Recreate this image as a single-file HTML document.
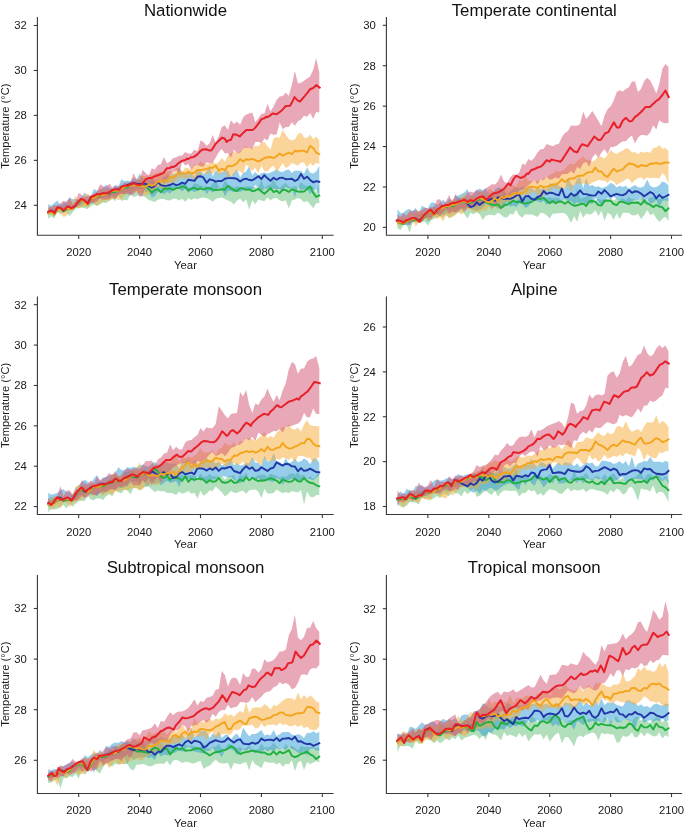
<!DOCTYPE html>
<html><head><meta charset="utf-8"><style>
html,body{margin:0;padding:0;background:#fff;width:685px;height:830px;overflow:hidden}
svg{display:block}
.t{font-family:"Liberation Sans",Arial,sans-serif;font-size:11.3px;fill:#1a1a1a}
.yl{font-size:11.1px}
.ti{font-family:"Liberation Sans",Arial,sans-serif;font-size:16.8px;fill:#111}
</style></head><body>
<svg width="685" height="830" viewBox="0 0 685 830">
<rect width="685" height="830" fill="#fff"/>
<g><polygon points="48.2,212.0 51.3,210.3 54.3,208.5 57.4,207.9 60.4,205.0 63.5,205.9 66.5,203.8 69.6,205.8 72.6,207.7 75.7,202.2 78.7,201.1 81.7,199.5 84.8,200.6 87.8,200.0 90.9,197.8 93.9,196.1 97.0,195.8 100.0,192.0 103.1,192.6 106.1,190.8 109.2,189.6 112.2,191.3 115.2,187.6 118.3,187.4 121.3,184.3 124.4,186.5 127.4,183.0 130.5,183.1 133.5,181.9 136.6,181.1 139.6,180.9 142.6,183.4 145.7,181.6 148.7,182.9 151.8,178.0 154.8,182.8 157.9,186.5 160.9,183.8 164.0,184.3 167.0,186.9 170.1,183.9 173.1,184.5 176.1,187.1 179.2,186.8 182.2,183.4 185.3,183.8 188.3,187.7 191.4,187.3 194.4,183.1 197.5,184.3 200.5,185.4 203.5,186.3 206.6,186.5 209.6,187.1 212.7,183.5 215.7,180.8 218.8,186.4 221.8,188.2 224.9,180.0 227.9,184.8 230.9,186.0 234.0,187.5 237.0,186.2 240.1,187.1 243.1,187.4 246.2,186.3 249.2,186.6 252.3,186.8 255.3,187.2 258.4,187.5 261.4,178.9 264.4,188.3 267.5,185.2 270.5,184.6 273.6,179.8 276.6,185.2 279.7,187.8 282.7,184.9 285.8,182.8 288.8,186.4 291.9,187.2 294.9,186.0 297.9,187.2 301.0,182.1 304.0,185.0 307.1,186.0 310.1,185.4 313.2,186.5 316.2,192.5 319.3,183.7 319.3,203.0 316.2,203.2 313.2,208.2 310.1,204.5 307.1,201.1 304.0,202.2 301.0,199.2 297.9,197.9 294.9,199.6 291.9,200.4 288.8,208.5 285.8,200.2 282.7,201.3 279.7,200.4 276.6,198.0 273.6,198.2 270.5,200.4 267.5,197.6 264.4,201.2 261.4,200.4 258.4,199.5 255.3,204.3 252.3,200.4 249.2,209.8 246.2,199.4 243.1,202.2 240.1,198.7 237.0,200.6 234.0,204.4 230.9,201.7 227.9,200.5 224.9,199.0 221.8,197.4 218.8,198.1 215.7,198.9 212.7,201.8 209.6,199.4 206.6,198.3 203.5,197.6 200.5,198.0 197.5,199.3 194.4,198.3 191.4,199.9 188.3,198.0 185.3,202.0 182.2,198.8 179.2,200.5 176.1,198.7 173.1,198.8 170.1,200.6 167.0,200.2 164.0,199.0 160.9,199.1 157.9,199.8 154.8,201.9 151.8,200.9 148.7,200.1 145.7,197.5 142.6,195.9 139.6,195.0 136.6,196.0 133.5,197.1 130.5,194.3 127.4,200.2 124.4,200.0 121.3,200.7 118.3,195.3 115.2,201.2 112.2,198.6 109.2,200.6 106.1,203.2 103.1,202.2 100.0,204.4 97.0,205.9 93.9,204.4 90.9,206.0 87.8,209.0 84.8,208.2 81.7,207.5 78.7,208.2 75.7,208.5 72.6,212.2 69.6,216.1 66.5,212.4 63.5,212.6 60.4,214.6 57.4,210.9 54.3,218.6 51.3,216.2 48.2,218.7" fill="#65bf77" fill-opacity="0.5"/><polygon points="48.2,204.1 51.3,205.8 54.3,203.0 57.4,200.6 60.4,205.3 63.5,202.5 66.5,202.0 69.6,197.4 72.6,199.2 75.7,199.0 78.7,200.0 81.7,196.7 84.8,192.5 87.8,196.9 90.9,196.2 93.9,189.0 97.0,190.8 100.0,189.5 103.1,187.7 106.1,184.5 109.2,187.8 112.2,188.9 115.2,184.8 118.3,187.1 121.3,179.2 124.4,181.2 127.4,180.4 130.5,181.3 133.5,178.1 136.6,179.5 139.6,173.6 142.6,178.4 145.7,178.1 148.7,179.7 151.8,175.3 154.8,181.9 157.9,179.5 160.9,179.3 164.0,177.0 167.0,175.0 170.1,176.1 173.1,173.3 176.1,174.4 179.2,167.3 182.2,172.5 185.3,173.8 188.3,171.4 191.4,172.7 194.4,176.7 197.5,170.1 200.5,171.3 203.5,174.0 206.6,172.1 209.6,165.8 212.7,176.4 215.7,170.3 218.8,172.8 221.8,172.7 224.9,170.5 227.9,170.2 230.9,176.5 234.0,172.3 237.0,169.3 240.1,177.6 243.1,173.1 246.2,171.6 249.2,166.6 252.3,175.2 255.3,171.9 258.4,175.2 261.4,173.2 264.4,172.6 267.5,173.5 270.5,172.5 273.6,171.3 276.6,169.4 279.7,171.6 282.7,172.1 285.8,170.3 288.8,169.5 291.9,173.1 294.9,170.4 297.9,170.8 301.0,170.8 304.0,173.8 307.1,167.6 310.1,172.8 313.2,173.6 316.2,171.4 319.3,165.8 319.3,195.3 316.2,189.3 313.2,189.9 310.1,194.2 307.1,188.5 304.0,189.1 301.0,190.6 297.9,185.9 294.9,197.8 291.9,187.6 288.8,189.0 285.8,186.8 282.7,191.5 279.7,189.0 276.6,189.3 273.6,188.8 270.5,188.5 267.5,188.4 264.4,188.7 261.4,191.4 258.4,188.0 255.3,184.8 252.3,190.1 249.2,190.1 246.2,190.0 243.1,190.5 240.1,191.9 237.0,191.5 234.0,192.0 230.9,191.0 227.9,191.0 224.9,196.4 221.8,187.9 218.8,187.5 215.7,190.8 212.7,192.4 209.6,190.3 206.6,194.6 203.5,187.0 200.5,189.0 197.5,190.8 194.4,192.0 191.4,190.5 188.3,192.7 185.3,188.4 182.2,191.4 179.2,188.8 176.1,187.9 173.1,190.1 170.1,193.7 167.0,191.8 164.0,194.6 160.9,192.1 157.9,191.7 154.8,196.1 151.8,197.4 148.7,191.6 145.7,192.2 142.6,188.8 139.6,188.8 136.6,189.0 133.5,191.3 130.5,194.0 127.4,192.1 124.4,195.0 121.3,192.4 118.3,195.2 115.2,196.7 112.2,194.8 109.2,198.5 106.1,197.5 103.1,197.8 100.0,198.2 97.0,199.0 93.9,200.9 90.9,203.8 87.8,204.2 84.8,202.6 81.7,206.2 78.7,205.0 75.7,206.2 72.6,208.8 69.6,209.1 66.5,208.9 63.5,211.9 60.4,209.2 57.4,211.9 54.3,213.8 51.3,213.2 48.2,213.2" fill="#2d9bd7" fill-opacity="0.5"/><polygon points="48.2,209.4 51.3,206.4 54.3,206.6 57.4,207.2 60.4,208.1 63.5,207.0 66.5,206.3 69.6,199.9 72.6,202.1 75.7,196.1 78.7,200.3 81.7,199.2 84.8,194.7 87.8,193.5 90.9,197.2 93.9,193.0 97.0,195.2 100.0,187.4 103.1,191.6 106.1,188.8 109.2,190.2 112.2,189.3 115.2,189.2 118.3,189.3 121.3,187.3 124.4,185.7 127.4,185.1 130.5,181.5 133.5,183.0 136.6,182.9 139.6,176.2 142.6,175.7 145.7,176.6 148.7,174.6 151.8,175.8 154.8,173.2 157.9,173.1 160.9,171.6 164.0,172.6 167.0,171.7 170.1,170.5 173.1,174.4 176.1,168.3 179.2,167.5 182.2,171.7 185.3,167.5 188.3,168.3 191.4,169.6 194.4,163.7 197.5,165.6 200.5,161.3 203.5,163.6 206.6,164.2 209.6,163.5 212.7,161.7 215.7,163.7 218.8,161.9 221.8,158.0 224.9,161.8 227.9,155.7 230.9,153.1 234.0,151.2 237.0,153.6 240.1,151.4 243.1,148.2 246.2,145.9 249.2,148.6 252.3,148.0 255.3,145.7 258.4,146.2 261.4,142.4 264.4,142.0 267.5,146.2 270.5,149.4 273.6,138.6 276.6,136.9 279.7,137.7 282.7,129.8 285.8,134.7 288.8,139.1 291.9,140.5 294.9,139.3 297.9,134.2 301.0,132.5 304.0,137.7 307.1,138.0 310.1,134.6 313.2,139.3 316.2,136.6 319.3,140.6 319.3,164.0 316.2,162.8 313.2,165.9 310.1,163.0 307.1,167.6 304.0,162.5 301.0,162.5 297.9,165.7 294.9,164.3 291.9,162.9 288.8,166.3 285.8,167.9 282.7,162.9 279.7,167.8 276.6,172.5 273.6,165.6 270.5,167.8 267.5,171.5 264.4,171.3 261.4,165.4 258.4,173.5 255.3,167.8 252.3,170.9 249.2,167.4 246.2,163.9 243.1,173.8 240.1,171.5 237.0,170.2 234.0,174.7 230.9,175.7 227.9,179.5 224.9,171.1 221.8,173.6 218.8,175.3 215.7,169.4 212.7,174.4 209.6,172.4 206.6,174.8 203.5,171.7 200.5,176.3 197.5,178.8 194.4,180.7 191.4,176.8 188.3,178.1 185.3,179.3 182.2,178.5 179.2,178.3 176.1,182.1 173.1,182.4 170.1,184.3 167.0,182.7 164.0,191.3 160.9,187.8 157.9,186.5 154.8,189.6 151.8,192.7 148.7,194.0 145.7,195.4 142.6,192.7 139.6,193.0 136.6,192.8 133.5,191.4 130.5,192.9 127.4,192.6 124.4,195.8 121.3,199.3 118.3,199.9 115.2,198.0 112.2,199.2 109.2,200.9 106.1,199.9 103.1,202.1 100.0,202.6 97.0,205.8 93.9,202.9 90.9,201.5 87.8,207.4 84.8,206.5 81.7,206.9 78.7,208.3 75.7,206.6 72.6,210.0 69.6,210.8 66.5,215.9 63.5,216.9 60.4,212.4 57.4,212.9 54.3,216.4 51.3,214.1 48.2,214.4" fill="#f7a935" fill-opacity="0.5"/><polygon points="48.2,207.5 51.3,207.0 54.3,205.1 57.4,205.7 60.4,203.3 63.5,200.7 66.5,202.1 69.6,197.3 72.6,204.2 75.7,201.6 78.7,192.7 81.7,195.0 84.8,197.8 87.8,195.4 90.9,195.4 93.9,193.8 97.0,191.4 100.0,184.2 103.1,186.2 106.1,187.5 109.2,183.6 112.2,187.3 115.2,186.3 118.3,185.7 121.3,185.5 124.4,182.5 127.4,182.8 130.5,182.1 133.5,173.2 136.6,179.2 139.6,179.4 142.6,169.7 145.7,172.9 148.7,176.0 151.8,168.2 154.8,169.4 157.9,164.9 160.9,164.3 164.0,156.9 167.0,163.4 170.1,161.6 173.1,158.1 176.1,157.5 179.2,155.7 182.2,155.6 185.3,151.9 188.3,153.7 191.4,153.5 194.4,149.6 197.5,151.5 200.5,140.4 203.5,141.9 206.6,145.8 209.6,143.2 212.7,135.0 215.7,142.8 218.8,135.9 221.8,127.1 224.9,125.2 227.9,130.0 230.9,120.3 234.0,123.9 237.0,121.6 240.1,124.7 243.1,117.4 246.2,114.6 249.2,113.6 252.3,112.4 255.3,122.3 258.4,118.3 261.4,113.8 264.4,113.4 267.5,103.8 270.5,111.5 273.6,106.5 276.6,100.1 279.7,96.6 282.7,95.9 285.8,92.7 288.8,95.7 291.9,84.8 294.9,71.1 297.9,83.4 301.0,82.7 304.0,80.7 307.1,78.5 310.1,76.4 313.2,69.7 316.2,58.0 319.3,72.5 319.3,112.5 316.2,112.1 313.2,119.0 310.1,113.0 307.1,116.8 304.0,115.8 301.0,119.5 297.9,121.3 294.9,125.8 291.9,122.2 288.8,127.1 285.8,126.9 282.7,129.2 279.7,122.5 276.6,134.6 273.6,134.8 270.5,133.4 267.5,140.4 264.4,138.5 261.4,143.3 258.4,141.8 255.3,142.2 252.3,148.9 249.2,148.2 246.2,147.5 243.1,148.4 240.1,152.8 237.0,153.4 234.0,149.5 230.9,157.7 227.9,152.9 224.9,153.6 221.8,148.9 218.8,152.3 215.7,157.7 212.7,162.8 209.6,163.2 206.6,162.6 203.5,166.6 200.5,166.3 197.5,165.3 194.4,165.2 191.4,170.1 188.3,164.0 185.3,165.5 182.2,161.8 179.2,173.1 176.1,170.3 173.1,172.3 170.1,175.3 167.0,179.3 164.0,183.4 160.9,179.6 157.9,180.7 154.8,188.2 151.8,186.7 148.7,187.1 145.7,185.9 142.6,196.3 139.6,197.0 136.6,190.6 133.5,194.2 130.5,195.6 127.4,194.3 124.4,193.5 121.3,193.9 118.3,194.8 115.2,199.0 112.2,197.2 109.2,198.9 106.1,199.7 103.1,199.7 100.0,198.3 97.0,201.4 93.9,203.2 90.9,202.6 87.8,205.2 84.8,202.2 81.7,202.0 78.7,206.3 75.7,206.8 72.6,210.3 69.6,207.7 66.5,210.4 63.5,210.5 60.4,210.8 57.4,208.8 54.3,214.0 51.3,212.6 48.2,215.0" fill="#d15171" fill-opacity="0.5"/><polyline points="48.2,213.0 51.3,211.3 54.3,214.5 57.4,208.9 60.4,208.8 63.5,211.2 66.5,208.9 69.6,208.8 72.6,208.7 75.7,205.7 78.7,202.1 81.7,200.5 84.8,201.6 87.8,204.5 90.9,198.8 93.9,197.1 97.0,196.8 100.0,195.4 103.1,193.6 106.1,194.6 109.2,192.6 112.2,192.3 115.2,191.8 118.3,191.0 121.3,188.6 124.4,187.5 127.4,187.4 130.5,184.9 133.5,184.9 136.6,185.4 139.6,185.4 142.6,185.1 145.7,186.8 148.7,189.1 151.8,192.7 154.8,190.1 157.9,189.1 160.9,192.3 164.0,188.5 167.0,188.8 170.1,188.5 173.1,190.0 176.1,188.1 179.2,187.8 182.2,186.4 185.3,187.0 188.3,190.4 191.4,188.7 194.4,187.7 197.5,189.5 200.5,188.4 203.5,189.7 206.6,188.3 209.6,188.1 212.7,189.6 215.7,190.1 218.8,189.7 221.8,189.2 224.9,189.7 227.9,185.8 230.9,188.4 234.0,190.0 237.0,191.0 240.1,188.1 243.1,188.4 246.2,189.8 249.2,189.3 252.3,191.2 255.3,190.5 258.4,188.8 261.4,191.5 264.4,193.7 267.5,191.0 270.5,188.1 273.6,192.2 276.6,190.7 279.7,193.2 282.7,189.6 285.8,190.1 288.8,191.9 291.9,189.3 294.9,190.4 297.9,191.6 301.0,191.8 304.0,191.5 307.1,189.0 310.1,186.4 313.2,192.9 316.2,196.9 319.3,195.6" fill="none" stroke="#1fb040" stroke-width="1.9" stroke-linejoin="round" stroke-linecap="square"/><polyline points="48.2,212.2 51.3,210.4 54.3,212.7 57.4,207.8 60.4,208.2 63.5,210.9 66.5,207.9 69.6,208.1 72.6,207.8 75.7,205.2 78.7,201.0 81.7,199.8 84.8,201.6 87.8,203.2 90.9,197.2 93.9,196.4 97.0,195.8 100.0,194.6 103.1,193.6 106.1,194.1 109.2,193.7 112.2,189.9 115.2,190.3 118.3,189.4 121.3,189.2 124.4,186.6 127.4,185.1 130.5,183.8 133.5,182.8 136.6,183.6 139.6,183.9 142.6,183.8 145.7,183.9 148.7,186.0 151.8,187.8 154.8,186.0 157.9,182.4 160.9,185.1 164.0,185.9 167.0,185.6 170.1,185.0 173.1,183.5 176.1,185.3 179.2,184.3 182.2,182.6 185.3,183.8 188.3,179.8 191.4,180.3 194.4,180.9 197.5,176.7 200.5,176.2 203.5,177.7 206.6,182.8 209.6,179.3 212.7,180.2 215.7,181.7 218.8,180.9 221.8,181.1 224.9,178.8 227.9,178.1 230.9,178.1 234.0,178.2 237.0,179.0 240.1,181.6 243.1,179.4 246.2,178.7 249.2,180.0 252.3,180.2 255.3,178.4 258.4,176.2 261.4,179.0 264.4,175.2 267.5,178.3 270.5,180.8 273.6,177.8 276.6,179.7 279.7,177.9 282.7,177.8 285.8,179.2 288.8,179.1 291.9,178.7 294.9,181.0 297.9,179.4 301.0,174.0 304.0,178.8 307.1,176.7 310.1,179.9 313.2,182.3 316.2,181.1 319.3,181.8" fill="none" stroke="#2237a6" stroke-width="1.9" stroke-linejoin="round" stroke-linecap="square"/><polyline points="48.2,213.4 51.3,211.5 54.3,214.2 57.4,208.2 60.4,209.3 63.5,209.9 66.5,208.1 69.6,209.0 72.6,209.0 75.7,205.6 78.7,201.3 81.7,200.2 84.8,201.8 87.8,205.0 90.9,198.7 93.9,197.8 97.0,196.2 100.0,194.9 103.1,194.7 106.1,194.3 109.2,192.8 112.2,190.9 115.2,190.5 118.3,190.7 121.3,189.2 124.4,186.7 127.4,186.1 130.5,185.3 133.5,185.2 136.6,185.1 139.6,185.8 142.6,186.2 145.7,186.9 148.7,184.6 151.8,185.6 154.8,184.9 157.9,181.4 160.9,181.5 164.0,180.2 167.0,181.6 170.1,176.9 173.1,177.8 176.1,175.2 179.2,173.3 182.2,173.1 185.3,173.7 188.3,171.8 191.4,173.2 194.4,172.8 197.5,169.9 200.5,170.1 203.5,169.5 206.6,168.9 209.6,167.8 212.7,167.7 215.7,165.6 218.8,170.8 221.8,168.6 224.9,170.1 227.9,166.0 230.9,166.1 234.0,165.4 237.0,163.3 240.1,159.0 243.1,161.6 246.2,159.2 249.2,159.7 252.3,158.8 255.3,160.1 258.4,161.6 261.4,159.9 264.4,158.0 267.5,157.3 270.5,157.0 273.6,158.2 276.6,155.9 279.7,153.4 282.7,155.7 285.8,154.0 288.8,152.7 291.9,154.1 294.9,150.8 297.9,151.5 301.0,150.6 304.0,150.8 307.1,152.4 310.1,145.9 313.2,148.1 316.2,152.7 319.3,154.1" fill="none" stroke="#f2a51c" stroke-width="1.9" stroke-linejoin="round" stroke-linecap="square"/><polyline points="48.3,211.7 51.7,210.7 54.6,213.1 57.5,207.2 61.0,208.4 63.9,210.1 67.4,206.6 69.6,206.7 71.0,208.4 73.9,207.2 75.7,205.8 77.4,202.6 80.9,199.0 84.4,200.2 87.9,203.7 91.4,196.7 94.9,195.5 97.0,193.9 99.6,194.4 103.0,193.2 106.6,193.2 110.0,192.0 112.2,190.2 113.6,189.7 115.2,189.3 119.4,189.7 121.3,186.9 125.4,185.4 127.4,185.8 130.5,184.5 134.2,183.2 136.6,184.6 139.6,185.1 141.8,184.3 145.7,179.4 147.3,178.8 148.7,177.9 151.8,178.0 153.9,176.6 157.9,175.2 160.9,174.0 162.6,173.4 164.0,172.2 167.0,168.2 170.1,168.0 171.4,166.8 173.1,167.1 176.1,165.5 178.0,163.5 182.2,160.7 185.3,160.1 186.7,158.7 188.3,159.0 191.4,157.2 193.8,156.9 197.5,154.4 200.5,150.9 202.5,149.6 206.6,149.3 209.6,150.6 211.3,150.3 212.7,148.6 215.7,143.8 218.8,140.8 222.2,137.6 224.9,138.7 226.6,142.0 227.9,140.8 230.9,139.8 233.2,134.3 237.0,134.8 239.7,136.5 243.1,132.9 246.3,129.9 249.2,130.0 252.9,129.9 255.3,127.6 259.4,122.3 261.4,119.1 264.4,118.3 266.0,116.8 267.5,117.2 270.5,115.1 272.6,113.5 276.6,114.3 279.7,112.0 281.3,110.9 282.7,109.4 285.8,106.0 290.1,105.8 291.9,102.6 294.5,97.1 297.9,100.6 300.0,101.5 304.0,96.8 307.6,92.7 310.1,89.2 313.2,88.0 316.4,85.0 319.7,87.7" fill="none" stroke="#e8202a" stroke-width="2.0" stroke-linejoin="round" stroke-linecap="square"/><path d="M37.40 17.00V235.30H333.60" fill="none" stroke="#383838" stroke-width="1.1"/><path d="M33.80 205.30H37.40" stroke="#383838" stroke-width="1.1"/><text x="26.80" y="209.10" text-anchor="end" class="t">24</text><path d="M33.80 160.35H37.40" stroke="#383838" stroke-width="1.1"/><text x="26.80" y="164.15" text-anchor="end" class="t">26</text><path d="M33.80 115.40H37.40" stroke="#383838" stroke-width="1.1"/><text x="26.80" y="119.20" text-anchor="end" class="t">28</text><path d="M33.80 70.45H37.40" stroke="#383838" stroke-width="1.1"/><text x="26.80" y="74.25" text-anchor="end" class="t">30</text><path d="M33.80 25.50H37.40" stroke="#383838" stroke-width="1.1"/><text x="26.80" y="29.30" text-anchor="end" class="t">32</text><path d="M78.70 235.30V238.90" stroke="#383838" stroke-width="1.1"/><text x="78.70" y="256.30" text-anchor="middle" class="t">2020</text><path d="M139.60 235.30V238.90" stroke="#383838" stroke-width="1.1"/><text x="139.60" y="256.30" text-anchor="middle" class="t">2040</text><path d="M200.50 235.30V238.90" stroke="#383838" stroke-width="1.1"/><text x="200.50" y="256.30" text-anchor="middle" class="t">2060</text><path d="M261.40 235.30V238.90" stroke="#383838" stroke-width="1.1"/><text x="261.40" y="256.30" text-anchor="middle" class="t">2080</text><path d="M322.30 235.30V238.90" stroke="#383838" stroke-width="1.1"/><text x="322.30" y="256.30" text-anchor="middle" class="t">2100</text><text x="185.50" y="268.80" text-anchor="middle" class="t">Year</text><text transform="translate(9.30 126.15) rotate(-90)" text-anchor="middle" class="t yl">Temperature (°C)</text><text x="185.50" y="16.00" text-anchor="middle" class="ti">Nationwide</text></g>
<g><polygon points="397.4,217.4 400.5,220.4 403.5,217.8 406.6,221.2 409.6,217.5 412.7,219.4 415.7,213.5 418.8,214.3 421.8,213.1 424.9,214.6 427.9,210.9 430.9,210.4 434.0,206.3 437.0,210.1 440.1,207.7 443.1,206.1 446.2,205.7 449.2,202.8 452.3,201.2 455.3,202.3 458.3,196.2 461.4,200.8 464.4,197.8 467.5,200.6 470.5,196.9 473.6,200.4 476.6,197.7 479.7,196.9 482.7,194.0 485.8,200.6 488.8,198.5 491.8,190.5 494.9,195.0 497.9,198.5 501.0,198.8 504.0,189.7 507.1,197.9 510.1,197.6 513.2,199.5 516.2,201.2 519.2,197.2 522.3,196.6 525.3,199.2 528.4,195.3 531.4,196.9 534.5,197.4 537.5,197.9 540.6,197.8 543.6,196.6 546.7,198.0 549.7,197.0 552.7,198.3 555.8,197.6 558.8,198.2 561.9,200.8 564.9,197.7 568.0,198.2 571.0,195.8 574.1,197.2 577.1,188.5 580.1,198.4 583.2,197.5 586.2,196.4 589.3,194.8 592.3,199.2 595.4,200.5 598.4,198.5 601.5,199.7 604.5,199.3 607.6,199.5 610.6,198.1 613.6,200.4 616.7,198.4 619.7,199.8 622.8,198.0 625.8,200.3 628.9,196.4 631.9,199.2 635.0,198.5 638.0,201.4 641.0,196.6 644.1,198.8 647.1,200.6 650.2,197.5 653.2,197.2 656.3,197.8 659.3,199.6 662.4,196.2 665.4,199.0 668.5,197.7 668.5,220.7 665.4,216.7 662.4,218.7 659.3,222.1 656.3,218.3 653.2,213.4 650.2,215.2 647.1,210.0 644.1,215.3 641.0,219.1 638.0,213.7 635.0,215.4 631.9,215.3 628.9,213.1 625.8,212.7 622.8,212.9 619.7,218.9 616.7,213.2 613.6,220.0 610.6,214.3 607.6,213.0 604.5,220.7 601.5,210.8 598.4,216.1 595.4,210.3 592.3,213.5 589.3,214.8 586.2,213.5 583.2,217.8 580.1,210.9 577.1,221.8 574.1,216.1 571.0,223.1 568.0,216.7 564.9,213.3 561.9,212.9 558.8,213.2 555.8,213.4 552.7,213.8 549.7,218.4 546.7,215.2 543.6,213.2 540.6,212.8 537.5,216.9 534.5,215.6 531.4,214.2 528.4,214.8 525.3,214.0 522.3,217.8 519.2,215.2 516.2,209.8 513.2,214.6 510.1,213.8 507.1,217.5 504.0,217.3 501.0,214.8 497.9,212.4 494.9,215.5 491.8,215.1 488.8,214.7 485.8,215.7 482.7,220.0 479.7,214.2 476.6,212.3 473.6,214.3 470.5,212.8 467.5,218.4 464.4,214.0 461.4,210.9 458.3,212.8 455.3,214.4 452.3,215.9 449.2,218.5 446.2,214.4 443.1,217.5 440.1,215.9 437.0,217.8 434.0,218.8 430.9,220.5 427.9,225.4 424.9,221.4 421.8,221.4 418.8,222.9 415.7,222.5 412.7,221.9 409.6,232.7 406.6,224.7 403.5,224.9 400.5,229.9 397.4,227.9" fill="#65bf77" fill-opacity="0.5"/><polygon points="397.4,209.2 400.5,213.2 403.5,212.7 406.6,209.7 409.6,209.0 412.7,211.6 415.7,207.7 418.8,213.7 421.8,205.4 424.9,207.4 427.9,208.6 430.9,202.8 434.0,202.4 437.0,205.2 440.1,202.6 443.1,199.5 446.2,202.8 449.2,198.2 452.3,201.8 455.3,195.4 458.3,195.8 461.4,194.1 464.4,192.4 467.5,189.1 470.5,196.7 473.6,193.7 476.6,190.6 479.7,188.5 482.7,190.2 485.8,188.2 488.8,193.5 491.8,195.8 494.9,189.3 497.9,187.6 501.0,187.8 504.0,190.1 507.1,194.4 510.1,191.9 513.2,188.7 516.2,187.0 519.2,188.4 522.3,186.1 525.3,188.5 528.4,186.8 531.4,187.0 534.5,190.4 537.5,187.4 540.6,188.9 543.6,188.1 546.7,189.2 549.7,183.1 552.7,185.2 555.8,182.6 558.8,185.8 561.9,187.5 564.9,189.1 568.0,177.1 571.0,184.3 574.1,185.6 577.1,178.6 580.1,176.9 583.2,188.3 586.2,178.2 589.3,185.9 592.3,185.1 595.4,187.1 598.4,186.3 601.5,188.1 604.5,187.2 607.6,186.0 610.6,182.8 613.6,184.2 616.7,187.5 619.7,185.8 622.8,186.9 625.8,185.8 628.9,188.8 631.9,186.8 635.0,185.1 638.0,187.3 641.0,187.6 644.1,186.3 647.1,179.5 650.2,185.8 653.2,187.5 656.3,186.9 659.3,185.2 662.4,181.5 665.4,182.4 668.5,185.6 668.5,200.7 665.4,200.6 662.4,200.7 659.3,207.8 656.3,199.4 653.2,202.7 650.2,203.6 647.1,199.1 644.1,204.3 641.0,196.4 638.0,201.0 635.0,199.3 631.9,201.5 628.9,205.3 625.8,201.7 622.8,201.6 619.7,200.2 616.7,199.0 613.6,196.6 610.6,199.2 607.6,197.8 604.5,203.3 601.5,206.5 598.4,201.7 595.4,197.4 592.3,204.2 589.3,202.9 586.2,205.4 583.2,201.3 580.1,204.6 577.1,202.1 574.1,204.5 571.0,201.1 568.0,200.9 564.9,198.6 561.9,200.6 558.8,202.5 555.8,203.8 552.7,203.3 549.7,202.2 546.7,204.8 543.6,200.7 540.6,202.5 537.5,201.0 534.5,200.7 531.4,201.1 528.4,206.6 525.3,207.9 522.3,203.6 519.2,203.5 516.2,207.3 513.2,205.6 510.1,206.7 507.1,201.3 504.0,207.9 501.0,207.1 497.9,208.6 494.9,206.4 491.8,208.6 488.8,205.8 485.8,204.3 482.7,208.4 479.7,209.4 476.6,211.0 473.6,209.8 470.5,208.5 467.5,207.0 464.4,208.3 461.4,208.9 458.3,209.5 455.3,212.1 452.3,209.5 449.2,211.7 446.2,213.7 443.1,215.0 440.1,212.9 437.0,214.3 434.0,215.0 430.9,219.5 427.9,221.6 424.9,216.2 421.8,219.6 418.8,221.5 415.7,219.5 412.7,222.4 409.6,224.4 406.6,225.5 403.5,224.3 400.5,223.2 397.4,223.1" fill="#2d9bd7" fill-opacity="0.5"/><polygon points="397.4,218.5 400.5,216.6 403.5,217.5 406.6,216.6 409.6,210.0 412.7,214.7 415.7,212.3 418.8,210.9 421.8,210.9 424.9,211.7 427.9,207.8 430.9,209.8 434.0,206.7 437.0,210.0 440.1,203.1 443.1,206.2 446.2,203.2 449.2,201.8 452.3,199.3 455.3,200.4 458.3,199.9 461.4,197.3 464.4,193.3 467.5,198.4 470.5,194.7 473.6,196.5 476.6,196.6 479.7,191.1 482.7,191.5 485.8,196.3 488.8,188.8 491.8,190.3 494.9,193.2 497.9,189.0 501.0,188.7 504.0,192.2 507.1,184.2 510.1,187.6 513.2,184.8 516.2,187.0 519.2,179.8 522.3,181.3 525.3,176.6 528.4,180.2 531.4,181.4 534.5,180.3 537.5,181.1 540.6,179.3 543.6,178.6 546.7,177.1 549.7,174.4 552.7,174.0 555.8,171.3 558.8,171.4 561.9,170.9 564.9,168.9 568.0,164.8 571.0,163.9 574.1,164.5 577.1,161.0 580.1,158.7 583.2,156.0 586.2,160.1 589.3,159.6 592.3,161.7 595.4,159.7 598.4,156.5 601.5,156.7 604.5,158.6 607.6,154.7 610.6,149.9 613.6,152.7 616.7,153.9 619.7,152.1 622.8,150.8 625.8,148.0 628.9,148.9 631.9,152.5 635.0,151.9 638.0,154.3 641.0,151.8 644.1,152.8 647.1,151.4 650.2,153.1 653.2,148.1 656.3,147.5 659.3,145.1 662.4,148.8 665.4,147.9 668.5,151.1 668.5,183.9 665.4,176.2 662.4,173.1 659.3,178.5 656.3,178.0 653.2,177.8 650.2,178.2 647.1,177.2 644.1,180.0 641.0,177.3 638.0,178.2 635.0,180.0 631.9,183.2 628.9,178.4 625.8,179.2 622.8,181.7 619.7,182.9 616.7,184.9 613.6,181.6 610.6,180.0 607.6,183.1 604.5,180.6 601.5,180.7 598.4,179.8 595.4,181.4 592.3,182.5 589.3,185.1 586.2,183.7 583.2,183.8 580.1,182.9 577.1,184.8 574.1,184.8 571.0,191.6 568.0,185.2 564.9,188.6 561.9,190.3 558.8,189.2 555.8,188.9 552.7,187.7 549.7,192.1 546.7,189.7 543.6,197.3 540.6,194.1 537.5,196.0 534.5,192.3 531.4,192.8 528.4,195.4 525.3,195.2 522.3,194.7 519.2,200.5 516.2,196.8 513.2,202.4 510.1,201.8 507.1,201.3 504.0,202.6 501.0,209.4 497.9,208.5 494.9,206.3 491.8,210.8 488.8,206.0 485.8,211.0 482.7,210.1 479.7,212.3 476.6,211.5 473.6,211.5 470.5,210.1 467.5,207.4 464.4,211.3 461.4,215.0 458.3,211.4 455.3,215.3 452.3,217.3 449.2,217.5 446.2,215.6 443.1,221.5 440.1,217.3 437.0,219.1 434.0,216.1 430.9,220.1 427.9,220.1 424.9,218.1 421.8,221.0 418.8,222.4 415.7,226.6 412.7,220.3 409.6,221.3 406.6,223.4 403.5,224.9 400.5,225.6 397.4,225.2" fill="#f7a935" fill-opacity="0.5"/><polygon points="397.4,214.5 400.5,216.7 403.5,213.0 406.6,215.5 409.6,211.4 412.7,210.8 415.7,210.0 418.8,211.3 421.8,210.1 424.9,207.6 427.9,209.0 430.9,206.9 434.0,206.9 437.0,199.7 440.1,199.3 443.1,204.5 446.2,200.7 449.2,195.0 452.3,202.1 455.3,194.0 458.3,198.5 461.4,198.0 464.4,197.2 467.5,192.8 470.5,191.6 473.6,192.6 476.6,189.5 479.7,191.4 482.7,191.3 485.8,188.3 488.8,186.5 491.8,184.3 494.9,184.4 497.9,181.6 501.0,174.6 504.0,181.5 507.1,183.4 510.1,177.6 513.2,174.3 516.2,175.2 519.2,172.6 522.3,163.8 525.3,164.8 528.4,159.1 531.4,160.7 534.5,157.6 537.5,152.6 540.6,149.2 543.6,149.1 546.7,144.1 549.7,145.3 552.7,146.3 555.8,144.6 558.8,144.1 561.9,136.9 564.9,133.1 568.0,130.9 571.0,125.5 574.1,125.8 577.1,125.7 580.1,124.0 583.2,111.4 586.2,118.9 589.3,115.3 592.3,111.0 595.4,115.7 598.4,121.0 601.5,126.2 604.5,115.7 607.6,108.9 610.6,106.5 613.6,101.0 616.7,91.9 619.7,90.3 622.8,91.5 625.8,89.1 628.9,87.3 631.9,81.5 635.0,81.4 638.0,92.1 641.0,89.1 644.1,81.2 647.1,77.7 650.2,80.4 653.2,86.6 656.3,93.5 659.3,83.9 662.4,68.8 665.4,63.9 668.5,67.0 668.5,122.9 665.4,123.3 662.4,122.6 659.3,120.2 656.3,129.4 653.2,125.2 650.2,132.6 647.1,135.8 644.1,135.0 641.0,135.1 638.0,137.4 635.0,143.5 631.9,135.4 628.9,138.1 625.8,141.2 622.8,141.2 619.7,143.3 616.7,145.8 613.6,147.0 610.6,147.1 607.6,154.0 604.5,149.2 601.5,152.4 598.4,157.7 595.4,153.7 592.3,157.7 589.3,166.7 586.2,161.8 583.2,163.2 580.1,169.0 577.1,166.8 574.1,173.7 571.0,171.1 568.0,173.7 564.9,174.0 561.9,174.3 558.8,178.8 555.8,177.3 552.7,179.1 549.7,179.7 546.7,176.7 543.6,180.3 540.6,178.9 537.5,184.6 534.5,180.0 531.4,182.7 528.4,185.2 525.3,188.3 522.3,189.6 519.2,190.5 516.2,195.2 513.2,193.8 510.1,196.4 507.1,196.9 504.0,198.9 501.0,199.8 497.9,202.1 494.9,205.0 491.8,200.3 488.8,199.5 485.8,202.4 482.7,204.6 479.7,202.8 476.6,206.6 473.6,207.1 470.5,207.2 467.5,208.1 464.4,212.1 461.4,207.7 458.3,211.6 455.3,212.3 452.3,212.1 449.2,213.9 446.2,209.0 443.1,212.4 440.1,216.3 437.0,214.4 434.0,215.3 430.9,218.5 427.9,217.2 424.9,218.5 421.8,222.4 418.8,222.8 415.7,219.4 412.7,219.5 409.6,225.4 406.6,221.4 403.5,221.4 400.5,222.0 397.4,224.8" fill="#d15171" fill-opacity="0.5"/><polyline points="397.4,221.3 400.5,223.2 403.5,223.9 406.6,222.2 409.6,220.4 412.7,220.4 415.7,220.0 418.8,220.8 421.8,220.1 424.9,215.6 427.9,212.1 430.9,211.4 434.0,214.6 437.0,211.6 440.1,208.7 443.1,207.1 446.2,206.7 449.2,205.5 452.3,206.4 455.3,204.7 458.3,202.8 461.4,201.8 464.4,201.8 467.5,203.8 470.5,202.6 473.6,201.4 476.6,199.8 479.7,199.5 482.7,199.2 485.8,201.8 488.8,203.3 491.8,204.7 494.9,205.1 497.9,204.4 501.0,208.1 504.0,205.3 507.1,204.8 510.1,202.9 513.2,200.7 516.2,202.2 519.2,201.5 522.3,202.8 525.3,203.7 528.4,202.8 531.4,202.0 534.5,199.8 537.5,198.9 540.6,198.8 543.6,197.9 546.7,200.8 549.7,203.3 552.7,200.9 555.8,203.2 558.8,201.5 561.9,201.8 564.9,203.8 568.0,201.6 571.0,204.0 574.1,205.8 577.1,205.3 580.1,204.3 583.2,203.5 586.2,206.1 589.3,201.3 592.3,201.0 595.4,201.8 598.4,205.1 601.5,205.6 604.5,200.8 607.6,200.5 610.6,200.9 613.6,204.0 616.7,205.1 619.7,201.6 622.8,201.9 625.8,203.2 628.9,204.0 631.9,202.6 635.0,202.8 638.0,202.5 641.0,204.7 644.1,200.5 647.1,203.5 650.2,204.7 653.2,207.1 656.3,205.0 659.3,206.6 662.4,207.3 665.4,211.2 668.5,208.3" fill="none" stroke="#1fb040" stroke-width="1.9" stroke-linejoin="round" stroke-linecap="square"/><polyline points="397.4,220.2 400.5,222.2 403.5,223.3 406.6,220.3 409.6,219.9 412.7,219.6 415.7,218.5 418.8,220.5 421.8,218.6 424.9,214.9 427.9,212.0 430.9,210.4 434.0,214.0 437.0,211.7 440.1,208.4 443.1,206.1 446.2,205.1 449.2,205.0 452.3,203.7 455.3,203.6 458.3,202.7 461.4,201.0 464.4,201.1 467.5,203.9 470.5,207.2 473.6,206.2 476.6,202.3 479.7,205.0 482.7,202.5 485.8,201.0 488.8,200.3 491.8,198.7 494.9,200.7 497.9,197.4 501.0,197.6 504.0,199.0 507.1,198.6 510.1,198.9 513.2,197.6 516.2,195.7 519.2,194.7 522.3,201.5 525.3,196.5 528.4,195.9 531.4,198.9 534.5,199.7 537.5,197.0 540.6,196.0 543.6,191.0 546.7,194.0 549.7,192.7 552.7,193.0 555.8,194.4 558.8,195.4 561.9,188.5 564.9,197.3 568.0,197.0 571.0,193.3 574.1,195.9 577.1,194.1 580.1,190.3 583.2,194.0 586.2,194.1 589.3,195.0 592.3,195.6 595.4,195.4 598.4,191.4 601.5,193.8 604.5,190.1 607.6,193.1 610.6,196.4 613.6,195.0 616.7,193.9 619.7,194.9 622.8,195.2 625.8,193.9 628.9,190.0 631.9,192.8 635.0,191.3 638.0,191.8 641.0,193.6 644.1,196.2 647.1,194.2 650.2,192.0 653.2,193.6 656.3,198.4 659.3,194.8 662.4,197.9 665.4,196.5 668.5,194.8" fill="none" stroke="#2237a6" stroke-width="1.9" stroke-linejoin="round" stroke-linecap="square"/><polyline points="397.4,222.1 400.5,222.3 403.5,223.3 406.6,221.6 409.6,220.0 412.7,219.3 415.7,219.0 418.8,221.4 421.8,219.8 424.9,214.7 427.9,212.5 430.9,210.8 434.0,215.1 437.0,211.0 440.1,208.9 443.1,207.7 446.2,206.0 449.2,206.1 452.3,204.8 455.3,204.3 458.3,203.0 461.4,201.5 464.4,201.4 467.5,203.0 470.5,201.4 473.6,200.4 476.6,199.5 479.7,198.0 482.7,199.3 485.8,201.1 488.8,202.5 491.8,201.2 494.9,198.1 497.9,200.7 501.0,197.1 504.0,198.2 507.1,195.5 510.1,196.8 513.2,193.5 516.2,193.3 519.2,193.5 522.3,192.8 525.3,191.4 528.4,187.4 531.4,186.3 534.5,187.3 537.5,187.7 540.6,185.7 543.6,187.4 546.7,186.6 549.7,185.6 552.7,184.5 555.8,184.6 558.8,182.7 561.9,179.2 564.9,182.1 568.0,179.8 571.0,178.4 574.1,178.5 577.1,176.3 580.1,175.7 583.2,175.6 586.2,173.2 589.3,172.1 592.3,171.9 595.4,167.6 598.4,171.3 601.5,171.5 604.5,175.4 607.6,176.9 610.6,172.6 613.6,168.5 616.7,171.6 619.7,170.4 622.8,169.3 625.8,165.9 628.9,163.5 631.9,163.8 635.0,165.1 638.0,167.1 641.0,165.0 644.1,165.7 647.1,166.0 650.2,163.5 653.2,163.7 656.3,162.8 659.3,163.9 662.4,163.5 665.4,162.4 668.5,162.7" fill="none" stroke="#f2a51c" stroke-width="1.9" stroke-linejoin="round" stroke-linecap="square"/><polyline points="396.7,220.6 400.5,220.8 403.2,222.8 406.6,220.4 408.7,219.5 412.7,217.9 415.3,218.4 419.7,221.7 421.8,218.4 424.0,215.1 427.9,211.7 430.6,209.6 433.9,214.0 437.0,209.9 440.1,207.9 441.6,206.3 443.1,206.1 446.2,204.9 448.1,205.2 452.3,203.1 454.7,203.1 458.3,201.7 461.4,200.9 464.5,199.8 467.8,202.0 470.5,200.2 473.6,201.0 476.6,198.7 479.7,197.1 483.2,196.5 485.8,199.3 487.5,198.7 491.8,194.5 494.1,193.2 497.9,192.4 500.7,191.0 504.0,188.8 508.3,183.4 510.5,185.5 513.2,179.7 516.0,175.7 520.4,177.9 522.3,177.6 525.3,175.6 527.0,173.5 528.4,173.8 531.4,170.0 534.0,169.3 537.5,167.5 540.6,166.6 542.8,165.0 546.7,160.2 549.7,161.7 551.5,159.5 555.8,160.6 558.8,161.3 560.3,161.7 561.9,160.1 564.9,155.5 568.0,150.7 570.1,147.4 574.1,151.5 575.6,151.8 577.1,152.4 580.1,146.9 582.2,144.2 586.2,145.6 587.6,146.3 589.3,143.7 592.3,139.5 594.2,136.5 598.4,140.1 600.8,139.8 605.2,133.2 608.4,132.1 610.6,128.0 613.9,122.3 616.7,127.2 618.3,127.7 619.7,127.0 622.8,120.5 626.0,117.9 628.9,120.9 630.3,121.2 631.9,121.0 635.0,116.9 636.9,115.7 641.0,112.0 644.1,108.7 645.7,106.9 647.1,107.0 650.2,106.9 652.2,104.7 656.3,100.9 658.8,99.3 662.4,95.0 665.4,90.5 668.7,97.1" fill="none" stroke="#e8202a" stroke-width="2.0" stroke-linejoin="round" stroke-linecap="square"/><path d="M386.40 17.00V235.30H682.10" fill="none" stroke="#383838" stroke-width="1.1"/><path d="M382.80 227.40H386.40" stroke="#383838" stroke-width="1.1"/><text x="375.80" y="231.20" text-anchor="end" class="t">20</text><path d="M382.80 186.98H386.40" stroke="#383838" stroke-width="1.1"/><text x="375.80" y="190.78" text-anchor="end" class="t">22</text><path d="M382.80 146.56H386.40" stroke="#383838" stroke-width="1.1"/><text x="375.80" y="150.36" text-anchor="end" class="t">24</text><path d="M382.80 106.14H386.40" stroke="#383838" stroke-width="1.1"/><text x="375.80" y="109.94" text-anchor="end" class="t">26</text><path d="M382.80 65.72H386.40" stroke="#383838" stroke-width="1.1"/><text x="375.80" y="69.52" text-anchor="end" class="t">28</text><path d="M382.80 25.30H386.40" stroke="#383838" stroke-width="1.1"/><text x="375.80" y="29.10" text-anchor="end" class="t">30</text><path d="M427.90 235.30V238.90" stroke="#383838" stroke-width="1.1"/><text x="427.90" y="256.30" text-anchor="middle" class="t">2020</text><path d="M488.80 235.30V238.90" stroke="#383838" stroke-width="1.1"/><text x="488.80" y="256.30" text-anchor="middle" class="t">2040</text><path d="M549.70 235.30V238.90" stroke="#383838" stroke-width="1.1"/><text x="549.70" y="256.30" text-anchor="middle" class="t">2060</text><path d="M610.60 235.30V238.90" stroke="#383838" stroke-width="1.1"/><text x="610.60" y="256.30" text-anchor="middle" class="t">2080</text><path d="M671.50 235.30V238.90" stroke="#383838" stroke-width="1.1"/><text x="671.50" y="256.30" text-anchor="middle" class="t">2100</text><text x="534.25" y="268.80" text-anchor="middle" class="t">Year</text><text transform="translate(358.30 126.15) rotate(-90)" text-anchor="middle" class="t yl">Temperature (°C)</text><text x="534.25" y="16.00" text-anchor="middle" class="ti">Temperate continental</text></g>
<g><polygon points="48.2,499.2 51.3,496.9 54.3,498.7 57.4,497.9 60.4,497.9 63.5,499.9 66.5,498.3 69.6,497.9 72.6,493.8 75.7,492.3 78.7,490.4 81.7,488.3 84.8,485.5 87.8,487.8 90.9,488.1 93.9,486.4 97.0,482.7 100.0,480.9 103.1,485.2 106.1,481.6 109.2,479.6 112.2,478.8 115.2,474.3 118.3,477.0 121.3,479.3 124.4,472.3 127.4,472.2 130.5,470.0 133.5,472.2 136.6,472.4 139.6,472.7 142.6,469.2 145.7,469.5 148.7,470.5 151.8,469.4 154.8,467.4 157.9,470.6 160.9,469.0 164.0,471.0 167.0,471.6 170.1,472.7 173.1,475.3 176.1,476.8 179.2,473.7 182.2,475.2 185.3,475.2 188.3,475.4 191.4,475.2 194.4,474.5 197.5,477.9 200.5,473.2 203.5,477.0 206.6,476.6 209.6,474.0 212.7,476.2 215.7,476.4 218.8,476.5 221.8,475.7 224.9,479.7 227.9,476.1 230.9,476.2 234.0,475.0 237.0,481.6 240.1,474.0 243.1,476.4 246.2,472.6 249.2,479.3 252.3,476.7 255.3,477.3 258.4,474.7 261.4,474.8 264.4,474.4 267.5,477.3 270.5,473.7 273.6,474.4 276.6,475.8 279.7,477.6 282.7,476.0 285.8,477.2 288.8,474.4 291.9,473.0 294.9,474.6 297.9,472.4 301.0,475.8 304.0,474.8 307.1,479.1 310.1,475.8 313.2,479.1 316.2,475.9 319.3,471.0 319.3,495.1 316.2,495.1 313.2,497.2 310.1,496.7 307.1,491.6 304.0,504.5 301.0,490.0 297.9,492.4 294.9,491.7 291.9,490.9 288.8,493.3 285.8,491.9 282.7,493.2 279.7,491.8 276.6,489.5 273.6,493.1 270.5,493.6 267.5,493.6 264.4,488.8 261.4,498.2 258.4,491.5 255.3,489.5 252.3,489.8 249.2,490.3 246.2,493.9 243.1,490.8 240.1,491.2 237.0,493.1 234.0,492.8 230.9,491.1 227.9,494.3 224.9,496.5 221.8,492.3 218.8,489.6 215.7,486.6 212.7,491.0 209.6,490.5 206.6,493.8 203.5,495.7 200.5,490.7 197.5,498.7 194.4,492.7 191.4,493.7 188.3,490.9 185.3,492.8 182.2,493.7 179.2,491.8 176.1,494.9 173.1,493.5 170.1,492.7 167.0,493.1 164.0,491.3 160.9,491.3 157.9,490.5 154.8,491.9 151.8,489.5 148.7,486.5 145.7,487.1 142.6,487.8 139.6,490.7 136.6,487.7 133.5,488.1 130.5,494.6 127.4,490.5 124.4,489.4 121.3,493.5 118.3,492.2 115.2,490.1 112.2,496.3 109.2,493.9 106.1,496.3 103.1,500.1 100.0,498.4 97.0,498.2 93.9,499.9 90.9,499.7 87.8,495.8 84.8,501.0 81.7,500.8 78.7,501.1 75.7,503.4 72.6,506.7 69.6,503.4 66.5,508.4 63.5,504.8 60.4,507.0 57.4,509.1 54.3,509.7 51.3,509.1 48.2,512.1" fill="#65bf77" fill-opacity="0.5"/><polygon points="48.2,492.8 51.3,494.7 54.3,494.0 57.4,493.0 60.4,490.1 63.5,489.3 66.5,491.9 69.6,492.3 72.6,495.8 75.7,487.8 78.7,485.6 81.7,482.0 84.8,479.8 87.8,482.1 90.9,483.5 93.9,478.5 97.0,475.1 100.0,481.8 103.1,477.5 106.1,477.1 109.2,475.3 112.2,474.5 115.2,473.4 118.3,467.3 121.3,469.8 124.4,470.5 127.4,467.0 130.5,467.9 133.5,466.8 136.6,467.5 139.6,466.1 142.6,464.6 145.7,466.0 148.7,466.6 151.8,463.7 154.8,462.1 157.9,464.9 160.9,463.7 164.0,462.7 167.0,462.2 170.1,464.2 173.1,463.5 176.1,463.7 179.2,468.6 182.2,462.4 185.3,461.4 188.3,458.5 191.4,465.1 194.4,459.8 197.5,464.0 200.5,462.3 203.5,459.1 206.6,457.6 209.6,461.2 212.7,460.8 215.7,463.4 218.8,461.7 221.8,465.3 224.9,464.3 227.9,461.6 230.9,459.6 234.0,465.3 237.0,463.1 240.1,465.4 243.1,464.9 246.2,462.9 249.2,463.2 252.3,457.1 255.3,462.7 258.4,462.7 261.4,465.9 264.4,455.4 267.5,461.4 270.5,460.8 273.6,453.1 276.6,461.2 279.7,462.1 282.7,464.6 285.8,458.2 288.8,463.3 291.9,462.1 294.9,458.4 297.9,462.3 301.0,461.3 304.0,458.5 307.1,460.2 310.1,464.2 313.2,458.7 316.2,458.3 319.3,462.8 319.3,475.2 316.2,477.4 313.2,480.2 310.1,479.2 307.1,478.7 304.0,477.4 301.0,481.6 297.9,480.7 294.9,479.4 291.9,478.4 288.8,479.9 285.8,480.0 282.7,484.8 279.7,479.8 276.6,477.7 273.6,481.7 270.5,481.4 267.5,479.3 264.4,480.8 261.4,482.1 258.4,478.0 255.3,480.5 252.3,476.9 249.2,478.3 246.2,476.6 243.1,480.4 240.1,483.6 237.0,481.5 234.0,479.6 230.9,476.9 227.9,477.0 224.9,476.6 221.8,476.3 218.8,476.6 215.7,479.6 212.7,479.4 209.6,480.1 206.6,482.1 203.5,479.0 200.5,480.9 197.5,476.2 194.4,481.8 191.4,479.4 188.3,478.8 185.3,479.0 182.2,479.2 179.2,486.9 176.1,481.1 173.1,482.0 170.1,483.1 167.0,480.4 164.0,482.7 160.9,485.3 157.9,482.1 154.8,485.2 151.8,480.6 148.7,485.5 145.7,485.7 142.6,478.3 139.6,484.2 136.6,480.7 133.5,481.5 130.5,482.9 127.4,486.6 124.4,487.5 121.3,487.9 118.3,488.6 115.2,489.5 112.2,488.8 109.2,488.8 106.1,491.2 103.1,494.3 100.0,492.4 97.0,495.5 93.9,494.4 90.9,494.9 87.8,490.9 84.8,496.9 81.7,495.0 78.7,495.2 75.7,499.4 72.6,500.4 69.6,500.2 66.5,502.2 63.5,501.3 60.4,500.4 57.4,502.8 54.3,504.2 51.3,504.6 48.2,507.6" fill="#2d9bd7" fill-opacity="0.5"/><polygon points="48.2,500.9 51.3,498.7 54.3,496.1 57.4,497.3 60.4,498.1 63.5,494.0 66.5,497.4 69.6,498.0 72.6,498.6 75.7,486.5 78.7,484.4 81.7,487.4 84.8,484.3 87.8,486.2 90.9,482.6 93.9,483.8 97.0,485.8 100.0,482.8 103.1,482.4 106.1,481.3 109.2,479.9 112.2,474.6 115.2,474.1 118.3,476.6 121.3,475.0 124.4,474.2 127.4,474.9 130.5,470.0 133.5,470.8 136.6,467.9 139.6,462.5 142.6,470.4 145.7,472.1 148.7,467.4 151.8,466.6 154.8,464.8 157.9,466.1 160.9,466.4 164.0,460.9 167.0,461.3 170.1,462.4 173.1,456.7 176.1,456.0 179.2,461.6 182.2,457.0 185.3,458.4 188.3,456.5 191.4,457.6 194.4,456.1 197.5,453.3 200.5,448.1 203.5,452.4 206.6,452.4 209.6,451.9 212.7,449.7 215.7,454.5 218.8,449.1 221.8,448.0 224.9,442.4 227.9,445.5 230.9,445.6 234.0,441.4 237.0,446.8 240.1,440.6 243.1,442.6 246.2,438.6 249.2,437.9 252.3,439.2 255.3,441.2 258.4,438.1 261.4,436.1 264.4,431.6 267.5,437.9 270.5,436.0 273.6,437.7 276.6,432.7 279.7,430.1 282.7,426.6 285.8,428.7 288.8,424.1 291.9,429.0 294.9,429.7 297.9,427.4 301.0,431.5 304.0,424.6 307.1,420.0 310.1,425.3 313.2,425.7 316.2,426.2 319.3,426.0 319.3,457.1 316.2,458.4 313.2,463.7 310.1,457.6 307.1,458.0 304.0,456.2 301.0,456.1 297.9,455.9 294.9,462.5 291.9,457.4 288.8,460.1 285.8,458.4 282.7,457.2 279.7,459.7 276.6,458.7 273.6,460.9 270.5,461.2 267.5,460.4 264.4,458.9 261.4,465.4 258.4,462.7 255.3,460.8 252.3,459.3 249.2,465.4 246.2,468.0 243.1,461.2 240.1,464.0 237.0,465.2 234.0,463.1 230.9,463.5 227.9,466.7 224.9,465.4 221.8,463.6 218.8,466.4 215.7,467.5 212.7,469.5 209.6,468.9 206.6,467.2 203.5,469.0 200.5,468.2 197.5,470.4 194.4,468.4 191.4,471.9 188.3,472.3 185.3,472.6 182.2,473.7 179.2,475.1 176.1,480.4 173.1,477.0 170.1,479.1 167.0,477.1 164.0,477.0 160.9,482.8 157.9,484.8 154.8,484.4 151.8,481.9 148.7,485.7 145.7,484.2 142.6,489.7 139.6,489.8 136.6,488.4 133.5,488.1 130.5,488.5 127.4,490.6 124.4,489.7 121.3,490.3 118.3,491.0 115.2,491.5 112.2,495.1 109.2,493.1 106.1,493.5 103.1,496.4 100.0,493.2 97.0,490.7 93.9,497.7 90.9,492.5 87.8,497.4 84.8,494.0 81.7,499.9 78.7,499.7 75.7,502.2 72.6,502.7 69.6,507.3 66.5,501.9 63.5,502.4 60.4,508.2 57.4,505.4 54.3,507.5 51.3,509.5 48.2,505.3" fill="#f7a935" fill-opacity="0.5"/><polygon points="48.2,498.1 51.3,501.1 54.3,497.2 57.4,495.7 60.4,485.9 63.5,496.4 66.5,490.7 69.6,490.3 72.6,494.6 75.7,489.2 78.7,488.5 81.7,480.1 84.8,483.3 87.8,484.3 90.9,480.3 93.9,483.6 97.0,476.5 100.0,480.0 103.1,478.4 106.1,477.0 109.2,473.1 112.2,475.4 115.2,471.1 118.3,476.4 121.3,475.3 124.4,470.2 127.4,468.7 130.5,469.7 133.5,468.8 136.6,468.2 139.6,469.2 142.6,465.5 145.7,461.1 148.7,461.3 151.8,460.5 154.8,466.1 157.9,459.2 160.9,457.4 164.0,453.6 167.0,452.7 170.1,444.5 173.1,450.2 176.1,446.8 179.2,449.4 182.2,449.2 185.3,442.2 188.3,440.6 191.4,440.1 194.4,437.2 197.5,435.1 200.5,428.0 203.5,431.4 206.6,427.3 209.6,428.3 212.7,428.0 215.7,424.0 218.8,406.2 221.8,410.6 224.9,415.3 227.9,418.4 230.9,414.0 234.0,413.2 237.0,413.3 240.1,392.1 243.1,396.4 246.2,390.1 249.2,405.1 252.3,412.9 255.3,403.6 258.4,404.9 261.4,399.5 264.4,396.5 267.5,388.4 270.5,395.9 273.6,401.7 276.6,395.1 279.7,400.2 282.7,390.3 285.8,383.2 288.8,369.3 291.9,362.1 294.9,364.1 297.9,373.8 301.0,368.4 304.0,368.6 307.1,361.7 310.1,359.3 313.2,358.6 316.2,356.1 319.3,368.0 319.3,414.0 316.2,414.0 313.2,408.6 310.1,416.9 307.1,417.4 304.0,412.7 301.0,420.7 297.9,423.7 294.9,424.6 291.9,425.7 288.8,426.2 285.8,427.3 282.7,432.2 279.7,429.1 276.6,431.3 273.6,431.0 270.5,432.8 267.5,434.2 264.4,436.6 261.4,435.0 258.4,432.4 255.3,441.2 252.3,436.7 249.2,440.4 246.2,438.6 243.1,442.3 240.1,444.5 237.0,445.6 234.0,447.0 230.9,448.1 227.9,452.9 224.9,456.2 221.8,453.0 218.8,455.1 215.7,456.0 212.7,452.0 209.6,454.3 206.6,457.7 203.5,459.7 200.5,462.1 197.5,461.0 194.4,464.9 191.4,463.9 188.3,461.3 185.3,463.1 182.2,463.3 179.2,463.6 176.1,465.7 173.1,467.0 170.1,471.2 167.0,472.2 164.0,474.7 160.9,482.8 157.9,477.0 154.8,480.1 151.8,485.8 148.7,477.6 145.7,482.5 142.6,480.8 139.6,485.8 136.6,485.1 133.5,485.7 130.5,480.6 127.4,485.2 124.4,485.6 121.3,487.5 118.3,485.9 115.2,490.4 112.2,489.2 109.2,490.2 106.1,492.2 103.1,491.2 100.0,492.4 97.0,495.7 93.9,494.7 90.9,493.2 87.8,496.2 84.8,498.2 81.7,495.8 78.7,499.5 75.7,500.8 72.6,499.0 69.6,499.9 66.5,501.0 63.5,501.2 60.4,500.4 57.4,501.6 54.3,501.8 51.3,506.5 48.2,504.7" fill="#d15171" fill-opacity="0.5"/><polyline points="48.2,504.3 51.3,503.4 54.3,502.9 57.4,498.9 60.4,499.7 63.5,500.9 66.5,499.3 69.6,500.2 72.6,500.1 75.7,495.1 78.7,491.4 81.7,489.3 84.8,491.9 87.8,492.0 90.9,489.1 93.9,487.4 97.0,486.6 100.0,486.4 103.1,486.2 106.1,484.8 109.2,482.9 112.2,482.6 115.2,480.0 118.3,481.1 121.3,481.3 124.4,478.8 127.4,478.5 130.5,476.1 133.5,477.0 136.6,477.4 139.6,475.4 142.6,473.1 145.7,474.0 148.7,472.9 151.8,470.7 154.8,468.4 157.9,471.6 160.9,476.5 164.0,478.1 167.0,475.7 170.1,479.9 173.1,477.1 176.1,477.8 179.2,478.5 182.2,480.8 185.3,476.2 188.3,481.8 191.4,478.6 194.4,479.9 197.5,478.9 200.5,478.5 203.5,479.9 206.6,482.9 209.6,480.2 212.7,481.8 215.7,481.3 218.8,477.8 221.8,482.0 224.9,482.7 227.9,482.2 230.9,480.0 234.0,482.7 237.0,482.6 240.1,479.4 243.1,481.2 246.2,477.2 249.2,480.3 252.3,477.7 255.3,479.7 258.4,481.1 261.4,480.4 264.4,480.5 267.5,479.6 270.5,478.2 273.6,479.3 276.6,480.6 279.7,483.2 282.7,479.4 285.8,481.0 288.8,481.9 291.9,481.4 294.9,478.7 297.9,481.3 301.0,481.5 304.0,477.9 307.1,481.2 310.1,482.8 313.2,483.2 316.2,485.3 319.3,486.3" fill="none" stroke="#1fb040" stroke-width="1.9" stroke-linejoin="round" stroke-linecap="square"/><polyline points="48.2,503.6 51.3,503.6 54.3,502.1 57.4,497.8 60.4,497.8 63.5,500.3 66.5,498.1 69.6,499.2 72.6,499.4 75.7,494.7 78.7,490.9 81.7,488.0 84.8,491.5 87.8,489.9 90.9,487.3 93.9,487.1 97.0,486.0 100.0,484.4 103.1,483.8 106.1,484.0 109.2,482.9 112.2,481.2 115.2,479.5 118.3,480.5 121.3,481.0 124.4,478.6 127.4,476.8 130.5,475.5 133.5,475.3 136.6,476.8 139.6,475.2 142.6,472.6 145.7,473.7 148.7,474.2 151.8,471.3 154.8,472.9 157.9,475.6 160.9,473.9 164.0,472.2 167.0,474.4 170.1,473.8 173.1,478.0 176.1,477.1 179.2,473.5 182.2,472.0 185.3,474.3 188.3,473.4 191.4,472.6 194.4,474.1 197.5,468.3 200.5,468.4 203.5,468.8 206.6,470.6 209.6,468.4 212.7,469.8 215.7,467.4 218.8,470.9 221.8,468.1 224.9,468.5 227.9,467.4 230.9,466.9 234.0,471.0 237.0,472.0 240.1,473.1 243.1,469.1 246.2,466.2 249.2,468.9 252.3,467.3 255.3,470.9 258.4,470.2 261.4,467.3 264.4,469.1 267.5,471.0 270.5,468.6 273.6,467.5 276.6,462.2 279.7,464.1 282.7,465.6 285.8,463.8 288.8,464.3 291.9,466.4 294.9,466.5 297.9,471.3 301.0,468.1 304.0,470.9 307.1,470.3 310.1,468.7 313.2,470.3 316.2,472.0 319.3,472.3" fill="none" stroke="#2237a6" stroke-width="1.9" stroke-linejoin="round" stroke-linecap="square"/><polyline points="48.2,504.3 51.3,503.1 54.3,502.6 57.4,498.8 60.4,499.1 63.5,499.9 66.5,498.6 69.6,499.4 72.6,499.6 75.7,494.2 78.7,491.0 81.7,488.4 84.8,490.2 87.8,491.7 90.9,489.2 93.9,486.6 97.0,486.8 100.0,486.2 103.1,484.8 106.1,484.4 109.2,482.3 112.2,481.5 115.2,480.2 118.3,480.4 121.3,480.9 124.4,480.2 127.4,478.5 130.5,476.2 133.5,475.3 136.6,476.0 139.6,475.3 142.6,473.6 145.7,473.1 148.7,475.7 151.8,475.1 154.8,475.4 157.9,475.9 160.9,473.8 164.0,474.4 167.0,473.1 170.1,473.9 173.1,471.2 176.1,475.3 179.2,471.2 182.2,468.4 185.3,464.6 188.3,461.9 191.4,467.3 194.4,463.9 197.5,467.2 200.5,463.8 203.5,462.1 206.6,460.1 209.6,461.5 212.7,461.0 215.7,457.6 218.8,458.9 221.8,459.0 224.9,461.6 227.9,459.9 230.9,459.6 234.0,455.5 237.0,455.8 240.1,453.2 243.1,452.5 246.2,451.0 249.2,452.2 252.3,451.1 255.3,452.7 258.4,451.6 261.4,449.0 264.4,451.5 267.5,446.7 270.5,449.9 273.6,449.8 276.6,447.9 279.7,447.4 282.7,442.9 285.8,446.8 288.8,448.5 291.9,448.2 294.9,446.6 297.9,445.6 301.0,443.3 304.0,443.4 307.1,438.8 310.1,439.3 313.2,443.6 316.2,445.7 319.3,446.1" fill="none" stroke="#f2a51c" stroke-width="1.9" stroke-linejoin="round" stroke-linecap="square"/><polyline points="48.3,502.8 51.3,504.8 53.1,502.8 57.5,497.3 60.4,499.4 63.0,499.5 67.4,497.3 69.6,498.9 71.7,500.6 76.1,492.9 78.7,490.4 81.6,487.4 86.0,491.8 87.8,489.6 90.9,488.2 92.6,486.3 93.9,486.1 98.0,485.2 100.0,484.0 103.1,484.5 105.7,484.2 110.1,482.0 112.2,482.2 115.5,478.7 118.3,480.4 121.0,480.9 124.4,477.7 126.5,477.6 130.5,475.7 132.0,474.3 133.5,474.7 137.4,476.5 139.6,474.4 142.9,472.1 145.7,472.5 147.3,473.2 148.7,473.2 151.8,469.9 153.9,467.7 157.9,466.9 160.4,465.5 164.0,462.1 165.9,460.1 170.1,460.1 171.4,459.0 173.1,457.4 176.9,454.6 179.2,456.8 182.3,456.8 185.0,454.3 188.3,450.9 191.4,451.4 193.8,448.9 197.5,446.0 201.4,442.3 203.5,441.0 206.9,441.2 209.6,441.9 213.5,442.3 215.7,441.2 218.8,437.3 222.2,431.3 224.9,434.0 226.6,435.7 227.9,435.2 230.9,430.9 233.2,430.2 237.0,433.5 239.7,431.3 243.1,426.5 246.3,422.6 249.2,424.3 250.7,425.9 252.3,423.1 255.1,420.4 258.4,417.3 261.4,415.4 263.8,413.8 268.2,414.9 270.5,411.7 273.6,408.9 277.0,405.1 279.7,406.9 281.3,407.3 282.7,406.3 285.7,404.0 288.8,401.6 292.3,400.7 294.9,399.6 296.7,398.5 298.9,399.6 301.0,396.3 304.0,394.4 305.4,393.0 307.1,391.9 310.1,388.2 314.2,382.1 316.2,382.3 319.7,383.2" fill="none" stroke="#e8202a" stroke-width="2.0" stroke-linejoin="round" stroke-linecap="square"/><path d="M37.40 296.40V514.50H333.60" fill="none" stroke="#383838" stroke-width="1.1"/><path d="M33.80 506.60H37.40" stroke="#383838" stroke-width="1.1"/><text x="26.80" y="510.40" text-anchor="end" class="t">22</text><path d="M33.80 466.22H37.40" stroke="#383838" stroke-width="1.1"/><text x="26.80" y="470.02" text-anchor="end" class="t">24</text><path d="M33.80 425.84H37.40" stroke="#383838" stroke-width="1.1"/><text x="26.80" y="429.64" text-anchor="end" class="t">26</text><path d="M33.80 385.46H37.40" stroke="#383838" stroke-width="1.1"/><text x="26.80" y="389.26" text-anchor="end" class="t">28</text><path d="M33.80 345.08H37.40" stroke="#383838" stroke-width="1.1"/><text x="26.80" y="348.88" text-anchor="end" class="t">30</text><path d="M33.80 304.70H37.40" stroke="#383838" stroke-width="1.1"/><text x="26.80" y="308.50" text-anchor="end" class="t">32</text><path d="M78.70 514.50V518.10" stroke="#383838" stroke-width="1.1"/><text x="78.70" y="535.50" text-anchor="middle" class="t">2020</text><path d="M139.60 514.50V518.10" stroke="#383838" stroke-width="1.1"/><text x="139.60" y="535.50" text-anchor="middle" class="t">2040</text><path d="M200.50 514.50V518.10" stroke="#383838" stroke-width="1.1"/><text x="200.50" y="535.50" text-anchor="middle" class="t">2060</text><path d="M261.40 514.50V518.10" stroke="#383838" stroke-width="1.1"/><text x="261.40" y="535.50" text-anchor="middle" class="t">2080</text><path d="M322.30 514.50V518.10" stroke="#383838" stroke-width="1.1"/><text x="322.30" y="535.50" text-anchor="middle" class="t">2100</text><text x="185.50" y="548.00" text-anchor="middle" class="t">Year</text><text transform="translate(9.30 405.45) rotate(-90)" text-anchor="middle" class="t yl">Temperature (°C)</text><text x="185.50" y="294.80" text-anchor="middle" class="ti">Temperate monsoon</text></g>
<g><polygon points="397.4,497.5 400.5,497.2 403.5,496.1 406.6,495.4 409.6,488.7 412.7,493.9 415.7,491.6 418.8,490.9 421.8,491.7 424.9,488.2 427.9,491.3 430.9,491.5 434.0,489.8 437.0,488.9 440.1,487.1 443.1,485.5 446.2,484.1 449.2,483.3 452.3,484.4 455.3,479.9 458.3,479.2 461.4,480.6 464.4,478.0 467.5,477.4 470.5,476.4 473.6,472.4 476.6,475.2 479.7,473.5 482.7,474.8 485.8,469.9 488.8,470.5 491.8,473.7 494.9,472.9 497.9,471.9 501.0,479.4 504.0,473.9 507.1,473.1 510.1,474.6 513.2,475.7 516.2,469.1 519.2,477.3 522.3,478.3 525.3,474.1 528.4,479.3 531.4,478.2 534.5,474.6 537.5,476.7 540.6,475.7 543.6,478.7 546.7,476.7 549.7,473.5 552.7,475.7 555.8,475.3 558.8,476.2 561.9,477.9 564.9,477.1 568.0,480.9 571.0,478.8 574.1,471.0 577.1,477.5 580.1,475.9 583.2,476.0 586.2,472.5 589.3,477.9 592.3,479.0 595.4,476.1 598.4,476.5 601.5,478.5 604.5,473.9 607.6,477.5 610.6,474.9 613.6,473.2 616.7,476.9 619.7,480.1 622.8,477.4 625.8,482.7 628.9,479.4 631.9,478.1 635.0,476.9 638.0,474.8 641.0,472.0 644.1,478.9 647.1,474.5 650.2,473.6 653.2,477.1 656.3,475.4 659.3,474.7 662.4,479.9 665.4,475.6 668.5,480.4 668.5,502.2 665.4,495.6 662.4,492.1 659.3,491.8 656.3,494.1 653.2,485.2 650.2,491.4 647.1,489.8 644.1,489.4 641.0,488.6 638.0,501.1 635.0,492.5 631.9,486.9 628.9,487.6 625.8,493.2 622.8,494.4 619.7,490.3 616.7,488.5 613.6,492.5 610.6,489.7 607.6,494.7 604.5,492.6 601.5,491.3 598.4,490.8 595.4,490.0 592.3,489.0 589.3,489.6 586.2,492.2 583.2,488.8 580.1,490.2 577.1,490.6 574.1,489.6 571.0,491.4 568.0,488.1 564.9,490.4 561.9,493.9 558.8,493.2 555.8,490.8 552.7,489.9 549.7,489.2 546.7,491.7 543.6,495.8 540.6,492.9 537.5,495.3 534.5,490.2 531.4,491.2 528.4,489.4 525.3,493.1 522.3,493.1 519.2,496.6 516.2,490.9 513.2,490.8 510.1,491.1 507.1,490.6 504.0,490.4 501.0,492.4 497.9,496.4 494.9,490.4 491.8,494.9 488.8,493.3 485.8,490.5 482.7,493.1 479.7,495.8 476.6,496.7 473.6,488.1 470.5,491.9 467.5,494.1 464.4,490.9 461.4,496.4 458.3,493.5 455.3,493.3 452.3,490.6 449.2,496.4 446.2,494.7 443.1,494.1 440.1,498.3 437.0,496.1 434.0,498.3 430.9,499.4 427.9,498.0 424.9,499.3 421.8,496.6 418.8,504.6 415.7,502.4 412.7,502.3 409.6,502.2 406.6,505.7 403.5,506.9 400.5,506.6 397.4,504.6" fill="#65bf77" fill-opacity="0.5"/><polygon points="397.4,495.0 400.5,491.2 403.5,494.4 406.6,488.7 409.6,490.9 412.7,491.4 415.7,485.9 418.8,486.3 421.8,485.1 424.9,487.9 427.9,486.8 430.9,484.0 434.0,480.5 437.0,480.0 440.1,480.6 443.1,480.2 446.2,478.4 449.2,477.8 452.3,479.1 455.3,477.1 458.3,473.8 461.4,476.5 464.4,475.2 467.5,474.0 470.5,475.8 473.6,473.5 476.6,473.4 479.7,471.5 482.7,467.9 485.8,474.4 488.8,467.2 491.8,473.5 494.9,472.8 497.9,467.8 501.0,473.7 504.0,466.9 507.1,468.4 510.1,468.5 513.2,465.9 516.2,463.4 519.2,466.5 522.3,466.8 525.3,465.1 528.4,464.8 531.4,458.5 534.5,464.2 537.5,466.5 540.6,461.5 543.6,463.0 546.7,464.9 549.7,462.2 552.7,468.6 555.8,464.7 558.8,462.6 561.9,465.4 564.9,462.0 568.0,463.0 571.0,463.6 574.1,466.3 577.1,463.3 580.1,467.3 583.2,465.1 586.2,462.3 589.3,463.6 592.3,462.5 595.4,466.3 598.4,466.0 601.5,460.7 604.5,460.8 607.6,461.5 610.6,461.9 613.6,463.9 616.7,462.9 619.7,461.2 622.8,463.9 625.8,460.9 628.9,466.6 631.9,456.6 635.0,467.4 638.0,463.6 641.0,462.5 644.1,461.1 647.1,461.5 650.2,456.9 653.2,461.5 656.3,462.0 659.3,461.5 662.4,462.8 665.4,460.8 668.5,462.2 668.5,483.6 665.4,479.1 662.4,481.3 659.3,478.6 656.3,476.8 653.2,480.7 650.2,479.0 647.1,482.0 644.1,480.0 641.0,479.2 638.0,478.9 635.0,478.6 631.9,480.3 628.9,480.3 625.8,483.8 622.8,476.4 619.7,478.2 616.7,480.1 613.6,481.0 610.6,481.2 607.6,478.0 604.5,484.2 601.5,478.4 598.4,479.6 595.4,477.8 592.3,480.7 589.3,479.3 586.2,478.6 583.2,483.8 580.1,477.7 577.1,482.9 574.1,480.4 571.0,480.5 568.0,480.9 564.9,483.1 561.9,483.4 558.8,483.6 555.8,477.6 552.7,483.2 549.7,480.4 546.7,483.5 543.6,487.4 540.6,481.9 537.5,479.0 534.5,486.1 531.4,483.0 528.4,479.4 525.3,485.4 522.3,478.8 519.2,490.2 516.2,487.9 513.2,484.4 510.1,483.3 507.1,484.1 504.0,485.4 501.0,487.3 497.9,490.0 494.9,490.6 491.8,487.8 488.8,488.6 485.8,490.9 482.7,489.5 479.7,494.1 476.6,490.3 473.6,493.0 470.5,490.7 467.5,487.4 464.4,485.8 461.4,487.1 458.3,486.3 455.3,485.5 452.3,488.1 449.2,491.4 446.2,491.8 443.1,488.2 440.1,492.5 437.0,493.4 434.0,490.6 430.9,493.0 427.9,496.4 424.9,495.6 421.8,497.9 418.8,497.3 415.7,498.8 412.7,499.9 409.6,499.0 406.6,499.1 403.5,499.2 400.5,500.5 397.4,499.7" fill="#2d9bd7" fill-opacity="0.5"/><polygon points="397.4,496.7 400.5,496.8 403.5,497.6 406.6,494.8 409.6,493.9 412.7,495.2 415.7,489.7 418.8,493.5 421.8,493.1 424.9,490.0 427.9,488.3 430.9,491.3 434.0,488.1 437.0,484.7 440.1,487.3 443.1,482.6 446.2,482.9 449.2,483.7 452.3,481.3 455.3,480.0 458.3,477.8 461.4,477.6 464.4,478.7 467.5,476.7 470.5,476.5 473.6,473.3 476.6,471.2 479.7,471.0 482.7,465.7 485.8,467.0 488.8,462.0 491.8,462.8 494.9,460.0 497.9,461.2 501.0,463.0 504.0,462.7 507.1,458.8 510.1,461.2 513.2,460.1 516.2,456.9 519.2,456.1 522.3,458.1 525.3,456.5 528.4,455.6 531.4,456.1 534.5,454.1 537.5,451.8 540.6,449.8 543.6,450.6 546.7,446.2 549.7,448.5 552.7,445.2 555.8,448.0 558.8,445.2 561.9,449.7 564.9,445.2 568.0,439.8 571.0,442.8 574.1,448.7 577.1,441.9 580.1,442.0 583.2,441.3 586.2,437.3 589.3,438.6 592.3,439.1 595.4,435.4 598.4,432.2 601.5,435.4 604.5,436.1 607.6,432.1 610.6,434.5 613.6,433.1 616.7,426.7 619.7,425.9 622.8,428.1 625.8,421.1 628.9,428.6 631.9,431.8 635.0,430.3 638.0,429.0 641.0,432.0 644.1,426.7 647.1,422.0 650.2,422.5 653.2,422.3 656.3,415.3 659.3,424.1 662.4,420.7 665.4,423.1 668.5,426.9 668.5,451.1 665.4,451.3 662.4,453.1 659.3,452.4 656.3,458.0 653.2,457.9 650.2,456.5 647.1,453.8 644.1,460.8 641.0,451.5 638.0,447.8 635.0,456.7 631.9,454.9 628.9,454.2 625.8,452.9 622.8,456.3 619.7,454.5 616.7,457.0 613.6,455.7 610.6,457.4 607.6,458.4 604.5,454.7 601.5,459.2 598.4,461.9 595.4,457.6 592.3,459.8 589.3,454.7 586.2,463.6 583.2,464.3 580.1,460.3 577.1,457.4 574.1,460.3 571.0,465.5 568.0,465.6 564.9,464.9 561.9,464.9 558.8,465.2 555.8,462.1 552.7,462.5 549.7,467.8 546.7,467.6 543.6,466.6 540.6,466.9 537.5,465.7 534.5,469.0 531.4,469.3 528.4,468.2 525.3,470.6 522.3,468.9 519.2,474.0 516.2,475.5 513.2,475.9 510.1,477.0 507.1,478.3 504.0,481.0 501.0,482.0 497.9,485.5 494.9,482.7 491.8,480.8 488.8,482.1 485.8,484.4 482.7,483.4 479.7,485.2 476.6,490.6 473.6,486.8 470.5,489.5 467.5,486.2 464.4,486.7 461.4,487.4 458.3,488.3 455.3,493.2 452.3,495.6 449.2,493.1 446.2,498.4 443.1,497.7 440.1,496.3 437.0,494.5 434.0,492.3 430.9,500.3 427.9,500.3 424.9,498.9 421.8,498.4 418.8,502.2 415.7,502.1 412.7,499.4 409.6,501.4 406.6,502.9 403.5,508.4 400.5,503.2 397.4,499.9" fill="#f7a935" fill-opacity="0.5"/><polygon points="397.4,490.6 400.5,494.4 403.5,492.9 406.6,494.7 409.6,491.3 412.7,489.7 415.7,490.9 418.8,482.6 421.8,486.4 424.9,487.1 427.9,485.5 430.9,479.8 434.0,487.6 437.0,478.5 440.1,482.0 443.1,481.9 446.2,481.8 449.2,476.1 452.3,479.9 455.3,475.4 458.3,476.8 461.4,474.7 464.4,478.3 467.5,475.1 470.5,473.8 473.6,471.3 476.6,465.0 479.7,467.0 482.7,465.8 485.8,464.8 488.8,463.1 491.8,459.1 494.9,454.5 497.9,455.5 501.0,450.5 504.0,447.5 507.1,442.9 510.1,446.1 513.2,445.3 516.2,440.4 519.2,437.3 522.3,436.6 525.3,436.9 528.4,435.4 531.4,429.2 534.5,437.6 537.5,430.5 540.6,430.5 543.6,428.8 546.7,426.2 549.7,425.0 552.7,423.8 555.8,422.8 558.8,420.9 561.9,423.3 564.9,427.9 568.0,417.6 571.0,402.5 574.1,404.0 577.1,413.8 580.1,411.1 583.2,410.6 586.2,405.6 589.3,394.5 592.3,398.4 595.4,395.2 598.4,394.3 601.5,395.5 604.5,394.1 607.6,375.4 610.6,372.6 613.6,371.3 616.7,377.8 619.7,373.3 622.8,361.7 625.8,355.7 628.9,366.7 631.9,365.1 635.0,359.4 638.0,354.8 641.0,353.6 644.1,345.5 647.1,352.9 650.2,356.6 653.2,354.4 656.3,348.5 659.3,345.1 662.4,348.0 665.4,345.6 668.5,351.2 668.5,388.3 665.4,387.8 662.4,395.4 659.3,397.5 656.3,400.6 653.2,402.1 650.2,400.6 647.1,405.5 644.1,405.7 641.0,412.4 638.0,408.6 635.0,413.1 631.9,417.3 628.9,416.3 625.8,414.9 622.8,416.6 619.7,414.8 616.7,422.7 613.6,424.2 610.6,423.3 607.6,421.9 604.5,424.1 601.5,427.5 598.4,428.3 595.4,427.3 592.3,432.7 589.3,430.0 586.2,433.9 583.2,431.7 580.1,434.5 577.1,440.9 574.1,440.2 571.0,448.0 568.0,445.4 564.9,444.3 561.9,445.3 558.8,444.5 555.8,447.7 552.7,447.4 549.7,445.3 546.7,448.7 543.6,450.4 540.6,445.8 537.5,456.7 534.5,451.7 531.4,451.6 528.4,453.3 525.3,456.1 522.3,454.0 519.2,456.4 516.2,463.2 513.2,462.8 510.1,466.2 507.1,463.8 504.0,465.4 501.0,477.1 497.9,469.4 494.9,471.2 491.8,476.4 488.8,476.3 485.8,478.2 482.7,477.3 479.7,480.8 476.6,481.7 473.6,481.3 470.5,484.1 467.5,487.1 464.4,485.1 461.4,483.0 458.3,490.3 455.3,488.4 452.3,490.9 449.2,491.1 446.2,488.4 443.1,491.1 440.1,493.5 437.0,493.2 434.0,493.2 430.9,493.6 427.9,493.8 424.9,496.1 421.8,496.4 418.8,496.1 415.7,498.1 412.7,501.4 409.6,497.8 406.6,499.3 403.5,502.6 400.5,501.3 397.4,505.8" fill="#d15171" fill-opacity="0.5"/><polyline points="397.4,499.8 400.5,498.9 403.5,498.8 406.6,499.3 409.6,495.4 412.7,497.5 415.7,499.0 418.8,497.2 421.8,495.0 424.9,491.8 427.9,492.3 430.9,492.5 434.0,490.8 437.0,489.9 440.1,488.1 443.1,486.7 446.2,485.1 449.2,484.3 452.3,485.4 455.3,481.1 458.3,481.9 461.4,481.6 464.4,479.0 467.5,478.4 470.5,477.4 473.6,475.6 476.6,476.2 479.7,476.7 482.7,477.7 485.8,480.2 488.8,478.7 491.8,474.8 494.9,479.7 497.9,482.4 501.0,481.8 504.0,482.6 507.1,480.3 510.1,480.5 513.2,483.0 516.2,483.3 519.2,482.6 522.3,481.2 525.3,481.3 528.4,480.4 531.4,479.2 534.5,475.6 537.5,477.7 540.6,478.3 543.6,479.7 546.7,477.7 549.7,482.1 552.7,478.3 555.8,476.3 558.8,480.3 561.9,478.9 564.9,478.1 568.0,481.9 571.0,482.9 574.1,480.1 577.1,478.5 580.1,479.6 583.2,478.6 586.2,481.6 589.3,482.7 592.3,481.3 595.4,483.6 598.4,484.0 601.5,481.5 604.5,484.2 607.6,480.4 610.6,477.7 613.6,483.2 616.7,482.9 619.7,482.7 622.8,483.5 625.8,483.7 628.9,480.4 631.9,479.1 635.0,482.8 638.0,481.7 641.0,482.0 644.1,480.9 647.1,482.9 650.2,478.6 653.2,478.1 656.3,476.4 659.3,480.7 662.4,485.7 665.4,487.3 668.5,490.2" fill="none" stroke="#1fb040" stroke-width="1.9" stroke-linejoin="round" stroke-linecap="square"/><polyline points="397.4,498.7 400.5,497.6 403.5,498.2 406.6,498.0 409.6,494.8 412.7,495.5 415.7,497.8 418.8,496.0 421.8,494.5 424.9,491.0 427.9,492.0 430.9,492.0 434.0,489.6 437.0,488.6 440.1,487.9 443.1,486.1 446.2,484.2 449.2,483.3 452.3,484.6 455.3,480.4 458.3,480.6 461.4,483.4 464.4,484.8 467.5,486.4 470.5,483.3 473.6,485.0 476.6,483.1 479.7,478.6 482.7,480.7 485.8,475.9 488.8,476.1 491.8,480.6 494.9,482.4 497.9,481.6 501.0,479.3 504.0,476.5 507.1,476.2 510.1,475.8 513.2,480.4 516.2,475.9 519.2,476.2 522.3,477.0 525.3,475.2 528.4,476.5 531.4,472.5 534.5,473.2 537.5,477.8 540.6,470.8 543.6,469.6 546.7,469.4 549.7,465.1 552.7,473.1 555.8,472.7 558.8,472.2 561.9,472.8 564.9,474.1 568.0,469.4 571.0,470.7 574.1,471.2 577.1,471.8 580.1,471.8 583.2,470.4 586.2,466.3 589.3,468.2 592.3,472.0 595.4,470.9 598.4,470.6 601.5,468.9 604.5,467.2 607.6,468.7 610.6,470.4 613.6,468.7 616.7,470.0 619.7,475.1 622.8,474.0 625.8,474.2 628.9,472.4 631.9,470.8 635.0,470.1 638.0,470.6 641.0,473.0 644.1,468.4 647.1,469.3 650.2,469.0 653.2,472.0 656.3,473.8 659.3,474.0 662.4,474.5 665.4,473.7 668.5,470.9" fill="none" stroke="#2237a6" stroke-width="1.9" stroke-linejoin="round" stroke-linecap="square"/><polyline points="397.4,498.9 400.5,497.8 403.5,498.6 406.6,498.6 409.6,495.3 412.7,496.2 415.7,497.1 418.8,496.4 421.8,495.0 424.9,491.4 427.9,491.6 430.9,492.3 434.0,491.3 437.0,489.2 440.1,488.3 443.1,486.3 446.2,483.9 449.2,484.7 452.3,485.4 455.3,481.0 458.3,481.2 461.4,481.8 464.4,479.7 467.5,477.7 470.5,477.5 473.6,476.5 476.6,477.3 479.7,474.3 482.7,475.3 485.8,475.6 488.8,476.6 491.8,475.2 494.9,477.7 497.9,476.0 501.0,474.0 504.0,473.0 507.1,472.2 510.1,473.6 513.2,470.5 516.2,466.2 519.2,467.3 522.3,465.8 525.3,464.6 528.4,462.9 531.4,463.1 534.5,461.2 537.5,461.8 540.6,459.1 543.6,460.2 546.7,459.3 549.7,458.7 552.7,460.3 555.8,457.1 558.8,457.0 561.9,457.8 564.9,453.9 568.0,452.3 571.0,452.5 574.1,452.5 577.1,453.3 580.1,450.0 583.2,450.0 586.2,450.0 589.3,451.2 592.3,448.0 595.4,441.3 598.4,444.3 601.5,445.6 604.5,447.4 607.6,450.0 610.6,446.4 613.6,444.7 616.7,446.1 619.7,443.5 622.8,440.4 625.8,441.9 628.9,442.0 631.9,443.4 635.0,444.7 638.0,440.2 641.0,437.8 644.1,443.2 647.1,443.6 650.2,442.7 653.2,440.6 656.3,438.1 659.3,439.4 662.4,442.2 665.4,441.2 668.5,439.3" fill="none" stroke="#f2a51c" stroke-width="1.9" stroke-linejoin="round" stroke-linecap="square"/><polyline points="397.3,498.4 400.5,498.1 402.1,497.3 403.5,497.2 405.4,499.5 409.8,494.0 412.7,495.2 415.3,497.3 419.7,495.1 421.8,495.4 425.1,490.7 427.9,490.5 430.6,491.8 434.0,488.6 437.2,488.5 440.1,486.1 442.6,486.3 446.2,483.2 448.1,482.0 451.4,486.3 454.7,479.8 458.3,481.5 460.2,480.9 465.6,477.6 467.5,477.3 470.5,474.8 472.2,476.5 473.6,477.1 476.6,475.7 478.8,474.3 482.7,472.2 485.3,473.2 488.8,469.7 491.9,467.7 494.9,468.3 496.3,469.9 497.9,467.6 500.7,462.3 504.0,460.7 507.2,457.9 510.1,456.0 511.6,455.7 513.2,452.2 516.0,452.4 519.2,452.9 522.6,451.3 525.3,449.7 527.0,448.0 528.4,446.4 531.4,445.1 534.0,443.4 537.5,438.8 540.6,438.9 542.8,436.8 546.7,434.7 549.3,434.6 553.7,439.0 555.8,436.2 558.1,431.3 562.5,434.6 564.9,431.8 568.0,425.6 570.1,423.7 574.1,425.5 575.6,427.0 577.1,424.6 580.1,421.7 583.3,417.1 586.2,418.3 587.6,419.3 589.3,415.6 592.0,410.5 596.4,409.4 599.7,410.5 601.5,406.9 604.1,401.8 607.6,402.9 609.5,404.0 613.9,395.2 616.7,396.2 618.3,397.4 619.7,396.3 623.8,391.9 625.8,391.2 628.2,390.8 631.4,387.6 635.0,387.4 636.9,386.5 641.3,377.7 644.1,375.4 646.8,372.2 650.0,375.5 653.2,374.3 655.5,371.1 659.9,364.6 662.4,363.8 665.4,361.3 668.7,363.5" fill="none" stroke="#e8202a" stroke-width="2.0" stroke-linejoin="round" stroke-linecap="square"/><path d="M386.40 296.40V514.50H682.10" fill="none" stroke="#383838" stroke-width="1.1"/><path d="M382.80 506.50H386.40" stroke="#383838" stroke-width="1.1"/><text x="375.80" y="510.30" text-anchor="end" class="t">18</text><path d="M382.80 461.62H386.40" stroke="#383838" stroke-width="1.1"/><text x="375.80" y="465.42" text-anchor="end" class="t">20</text><path d="M382.80 416.74H386.40" stroke="#383838" stroke-width="1.1"/><text x="375.80" y="420.54" text-anchor="end" class="t">22</text><path d="M382.80 371.86H386.40" stroke="#383838" stroke-width="1.1"/><text x="375.80" y="375.66" text-anchor="end" class="t">24</text><path d="M382.80 326.98H386.40" stroke="#383838" stroke-width="1.1"/><text x="375.80" y="330.78" text-anchor="end" class="t">26</text><path d="M427.90 514.50V518.10" stroke="#383838" stroke-width="1.1"/><text x="427.90" y="535.50" text-anchor="middle" class="t">2020</text><path d="M488.80 514.50V518.10" stroke="#383838" stroke-width="1.1"/><text x="488.80" y="535.50" text-anchor="middle" class="t">2040</text><path d="M549.70 514.50V518.10" stroke="#383838" stroke-width="1.1"/><text x="549.70" y="535.50" text-anchor="middle" class="t">2060</text><path d="M610.60 514.50V518.10" stroke="#383838" stroke-width="1.1"/><text x="610.60" y="535.50" text-anchor="middle" class="t">2080</text><path d="M671.50 514.50V518.10" stroke="#383838" stroke-width="1.1"/><text x="671.50" y="535.50" text-anchor="middle" class="t">2100</text><text x="534.25" y="548.00" text-anchor="middle" class="t">Year</text><text transform="translate(358.30 405.45) rotate(-90)" text-anchor="middle" class="t yl">Temperature (°C)</text><text x="534.25" y="294.80" text-anchor="middle" class="ti">Alpine</text></g>
<g><polygon points="48.2,775.5 51.3,771.8 54.3,774.3 57.4,769.1 60.4,769.4 63.5,770.8 66.5,771.2 69.6,766.9 72.6,765.5 75.7,764.6 78.7,762.6 81.7,762.4 84.8,762.4 87.8,763.0 90.9,763.6 93.9,757.3 97.0,753.4 100.0,756.4 103.1,755.5 106.1,755.5 109.2,749.1 112.2,750.2 115.2,746.0 118.3,745.5 121.3,745.8 124.4,743.3 127.4,743.0 130.5,744.6 133.5,744.9 136.6,748.9 139.6,745.2 142.6,741.2 145.7,746.3 148.7,751.9 151.8,747.1 154.8,745.7 157.9,740.6 160.9,743.2 164.0,745.7 167.0,747.6 170.1,746.1 173.1,745.8 176.1,744.2 179.2,747.9 182.2,747.2 185.3,744.4 188.3,745.6 191.4,745.7 194.4,746.2 197.5,747.3 200.5,747.7 203.5,743.3 206.6,747.3 209.6,748.7 212.7,746.5 215.7,746.7 218.8,743.7 221.8,748.4 224.9,749.1 227.9,744.1 230.9,744.5 234.0,746.7 237.0,747.9 240.1,747.0 243.1,749.1 246.2,748.0 249.2,745.2 252.3,749.6 255.3,750.2 258.4,749.0 261.4,743.7 264.4,747.2 267.5,747.6 270.5,746.4 273.6,742.5 276.6,746.2 279.7,748.7 282.7,749.5 285.8,743.4 288.8,747.8 291.9,745.6 294.9,747.6 297.9,750.7 301.0,745.6 304.0,747.3 307.1,746.7 310.1,746.9 313.2,746.9 316.2,748.5 319.3,747.3 319.3,762.4 316.2,761.0 313.2,762.6 310.1,764.2 307.1,762.0 304.0,770.3 301.0,760.7 297.9,762.5 294.9,771.2 291.9,760.2 288.8,764.3 285.8,763.7 282.7,766.8 279.7,762.6 276.6,764.4 273.6,762.6 270.5,762.8 267.5,762.4 264.4,761.3 261.4,768.2 258.4,765.9 255.3,764.4 252.3,760.2 249.2,770.4 246.2,762.0 243.1,762.9 240.1,764.3 237.0,763.8 234.0,762.8 230.9,770.1 227.9,762.7 224.9,763.4 221.8,763.5 218.8,762.4 215.7,759.8 212.7,762.4 209.6,765.8 206.6,766.7 203.5,769.0 200.5,760.8 197.5,761.8 194.4,763.6 191.4,763.3 188.3,762.0 185.3,761.8 182.2,763.1 179.2,760.9 176.1,759.7 173.1,760.5 170.1,765.4 167.0,760.7 164.0,764.1 160.9,763.4 157.9,763.7 154.8,764.3 151.8,766.3 148.7,766.3 145.7,764.7 142.6,763.7 139.6,764.8 136.6,764.4 133.5,770.4 130.5,769.0 127.4,763.9 124.4,763.7 121.3,763.8 118.3,764.3 115.2,763.7 112.2,766.6 109.2,765.3 106.1,762.8 103.1,767.5 100.0,773.4 97.0,771.2 93.9,768.5 90.9,767.9 87.8,771.3 84.8,774.7 81.7,771.1 78.7,778.4 75.7,773.9 72.6,777.1 69.6,776.2 66.5,778.0 63.5,778.2 60.4,788.6 57.4,779.4 54.3,780.6 51.3,782.5 48.2,783.1" fill="#65bf77" fill-opacity="0.5"/><polygon points="48.2,769.1 51.3,770.4 54.3,768.9 57.4,769.6 60.4,767.3 63.5,765.7 66.5,764.7 69.6,762.6 72.6,761.6 75.7,763.5 78.7,760.9 81.7,760.7 84.8,755.3 87.8,757.4 90.9,754.7 93.9,752.5 97.0,754.5 100.0,749.7 103.1,753.7 106.1,746.3 109.2,746.8 112.2,743.8 115.2,742.6 118.3,743.0 121.3,741.1 124.4,742.4 127.4,740.8 130.5,742.4 133.5,737.9 136.6,741.4 139.6,740.5 142.6,742.6 145.7,740.7 148.7,740.8 151.8,737.9 154.8,734.0 157.9,739.4 160.9,736.4 164.0,738.6 167.0,738.7 170.1,738.1 173.1,738.2 176.1,734.0 179.2,738.1 182.2,734.5 185.3,738.3 188.3,735.6 191.4,727.7 194.4,737.3 197.5,735.0 200.5,730.6 203.5,730.7 206.6,731.2 209.6,737.9 212.7,733.3 215.7,735.7 218.8,731.5 221.8,737.7 224.9,735.0 227.9,734.7 230.9,739.5 234.0,735.6 237.0,733.4 240.1,738.3 243.1,727.5 246.2,732.2 249.2,736.3 252.3,733.9 255.3,734.1 258.4,732.5 261.4,730.1 264.4,735.6 267.5,734.4 270.5,735.5 273.6,730.1 276.6,735.9 279.7,734.3 282.7,732.0 285.8,731.9 288.8,731.9 291.9,734.4 294.9,735.6 297.9,734.0 301.0,735.3 304.0,738.0 307.1,732.7 310.1,733.2 313.2,731.3 316.2,733.2 319.3,732.1 319.3,750.7 316.2,750.5 313.2,748.4 310.1,748.8 307.1,755.5 304.0,751.5 301.0,753.1 297.9,752.7 294.9,750.3 291.9,749.0 288.8,747.1 285.8,749.9 282.7,748.8 279.7,749.3 276.6,747.9 273.6,751.5 270.5,749.5 267.5,751.4 264.4,749.1 261.4,753.8 258.4,751.3 255.3,753.6 252.3,751.6 249.2,748.5 246.2,751.0 243.1,748.9 240.1,752.6 237.0,755.1 234.0,750.4 230.9,749.2 227.9,747.6 224.9,750.1 221.8,757.3 218.8,752.9 215.7,752.7 212.7,747.3 209.6,750.7 206.6,751.1 203.5,753.4 200.5,752.8 197.5,752.2 194.4,751.8 191.4,748.5 188.3,746.6 185.3,749.2 182.2,752.1 179.2,749.5 176.1,752.3 173.1,752.9 170.1,754.5 167.0,755.2 164.0,754.4 160.9,756.4 157.9,752.9 154.8,760.1 151.8,757.1 148.7,758.0 145.7,756.6 142.6,757.7 139.6,757.3 136.6,758.2 133.5,759.9 130.5,755.9 127.4,763.9 124.4,757.5 121.3,757.9 118.3,759.6 115.2,758.1 112.2,760.7 109.2,758.2 106.1,758.5 103.1,762.0 100.0,760.1 97.0,763.3 93.9,772.9 90.9,765.9 87.8,771.1 84.8,767.9 81.7,766.9 78.7,771.9 75.7,770.1 72.6,772.0 69.6,770.9 66.5,773.3 63.5,776.4 60.4,774.3 57.4,775.9 54.3,776.0 51.3,778.5 48.2,777.5" fill="#2d9bd7" fill-opacity="0.5"/><polygon points="48.2,772.9 51.3,773.1 54.3,772.1 57.4,771.9 60.4,765.0 63.5,769.8 66.5,770.2 69.6,768.5 72.6,764.8 75.7,763.6 78.7,762.0 81.7,761.5 84.8,760.5 87.8,757.3 90.9,758.5 93.9,749.8 97.0,754.5 100.0,750.8 103.1,754.8 106.1,752.4 109.2,751.9 112.2,749.8 115.2,749.3 118.3,743.9 121.3,744.0 124.4,744.1 127.4,745.0 130.5,741.0 133.5,739.3 136.6,738.8 139.6,737.7 142.6,739.3 145.7,736.7 148.7,731.4 151.8,734.1 154.8,733.4 157.9,732.0 160.9,732.5 164.0,731.7 167.0,734.8 170.1,730.9 173.1,727.9 176.1,732.6 179.2,726.9 182.2,724.1 185.3,730.1 188.3,728.2 191.4,728.0 194.4,717.7 197.5,723.8 200.5,720.4 203.5,722.6 206.6,720.1 209.6,718.8 212.7,721.3 215.7,718.5 218.8,719.4 221.8,717.8 224.9,713.2 227.9,716.1 230.9,714.3 234.0,716.9 237.0,713.5 240.1,711.0 243.1,713.1 246.2,702.5 249.2,713.2 252.3,708.1 255.3,707.5 258.4,707.2 261.4,707.6 264.4,704.3 267.5,706.1 270.5,709.4 273.6,704.9 276.6,706.0 279.7,703.2 282.7,700.8 285.8,698.4 288.8,697.9 291.9,698.2 294.9,700.4 297.9,692.8 301.0,698.9 304.0,695.0 307.1,698.6 310.1,695.6 313.2,697.8 316.2,701.4 319.3,702.4 319.3,726.5 316.2,729.7 313.2,730.2 310.1,729.6 307.1,726.6 304.0,728.2 301.0,724.8 297.9,727.3 294.9,724.6 291.9,726.2 288.8,726.1 285.8,723.9 282.7,725.0 279.7,722.8 276.6,725.8 273.6,724.4 270.5,725.1 267.5,724.8 264.4,727.2 261.4,723.2 258.4,728.1 255.3,728.5 252.3,724.4 249.2,725.5 246.2,725.4 243.1,725.3 240.1,728.9 237.0,730.5 234.0,729.5 230.9,734.4 227.9,734.5 224.9,733.8 221.8,734.2 218.8,736.4 215.7,739.2 212.7,731.6 209.6,733.9 206.6,740.5 203.5,735.4 200.5,736.6 197.5,737.1 194.4,736.2 191.4,740.7 188.3,740.2 185.3,737.5 182.2,740.3 179.2,743.2 176.1,743.3 173.1,744.2 170.1,743.7 167.0,748.5 164.0,749.8 160.9,751.5 157.9,749.5 154.8,752.9 151.8,754.0 148.7,755.4 145.7,756.8 142.6,759.8 139.6,760.7 136.6,757.9 133.5,759.5 130.5,761.2 127.4,761.0 124.4,764.3 121.3,764.0 118.3,765.0 115.2,760.4 112.2,764.2 109.2,768.2 106.1,762.7 103.1,765.8 100.0,766.6 97.0,769.2 93.9,767.4 90.9,769.3 87.8,770.2 84.8,772.6 81.7,774.3 78.7,774.3 75.7,772.8 72.6,772.1 69.6,774.2 66.5,778.4 63.5,775.3 60.4,775.8 57.4,785.8 54.3,779.6 51.3,782.1 48.2,777.3" fill="#f7a935" fill-opacity="0.5"/><polygon points="48.2,772.5 51.3,770.7 54.3,771.3 57.4,769.0 60.4,765.2 63.5,766.7 66.5,764.2 69.6,763.2 72.6,758.8 75.7,762.1 78.7,761.3 81.7,758.5 84.8,757.7 87.8,759.5 90.9,757.5 93.9,755.6 97.0,752.6 100.0,754.3 103.1,750.7 106.1,746.4 109.2,748.6 112.2,746.6 115.2,746.0 118.3,747.9 121.3,744.3 124.4,742.1 127.4,739.3 130.5,738.6 133.5,732.6 136.6,732.3 139.6,735.3 142.6,730.3 145.7,729.8 148.7,729.0 151.8,727.5 154.8,723.6 157.9,728.1 160.9,720.7 164.0,721.9 167.0,717.0 170.1,712.2 173.1,715.3 176.1,712.4 179.2,711.5 182.2,711.6 185.3,709.9 188.3,707.9 191.4,704.1 194.4,699.3 197.5,705.5 200.5,701.0 203.5,702.1 206.6,697.7 209.6,697.0 212.7,695.8 215.7,689.7 218.8,688.9 221.8,671.1 224.9,674.9 227.9,686.4 230.9,679.0 234.0,677.4 237.0,678.8 240.1,685.3 243.1,673.0 246.2,677.2 249.2,676.5 252.3,668.5 255.3,668.7 258.4,672.7 261.4,668.9 264.4,659.2 267.5,662.3 270.5,661.5 273.6,660.1 276.6,656.2 279.7,651.5 282.7,651.5 285.8,649.5 288.8,635.3 291.9,629.0 294.9,614.7 297.9,637.5 301.0,640.2 304.0,636.8 307.1,627.7 310.1,627.8 313.2,621.1 316.2,628.3 319.3,631.9 319.3,664.7 316.2,668.4 313.2,668.1 310.1,669.4 307.1,675.2 304.0,674.2 301.0,675.1 297.9,682.9 294.9,688.1 291.9,689.2 288.8,684.6 285.8,683.1 282.7,684.3 279.7,682.2 276.6,686.0 273.6,687.3 270.5,691.1 267.5,691.7 264.4,692.9 261.4,696.7 258.4,699.3 255.3,702.3 252.3,697.1 249.2,701.8 246.2,703.1 243.1,702.0 240.1,702.3 237.0,706.8 234.0,707.2 230.9,708.4 227.9,704.8 224.9,710.2 221.8,709.9 218.8,711.9 215.7,716.8 212.7,713.8 209.6,719.8 206.6,722.7 203.5,720.3 200.5,721.3 197.5,724.5 194.4,725.4 191.4,725.6 188.3,732.1 185.3,726.4 182.2,724.6 179.2,728.9 176.1,730.4 173.1,730.2 170.1,735.0 167.0,740.2 164.0,739.7 160.9,740.3 157.9,741.6 154.8,744.7 151.8,742.8 148.7,744.2 145.7,747.8 142.6,749.5 139.6,752.6 136.6,752.6 133.5,751.4 130.5,758.2 127.4,754.7 124.4,756.8 121.3,761.3 118.3,758.3 115.2,759.2 112.2,760.3 109.2,762.0 106.1,763.5 103.1,765.4 100.0,760.8 97.0,768.9 93.9,770.0 90.9,771.5 87.8,769.2 84.8,769.6 81.7,771.9 78.7,766.4 75.7,772.0 72.6,773.7 69.6,775.0 66.5,772.8 63.5,776.1 60.4,776.5 57.4,777.9 54.3,777.1 51.3,780.7 48.2,780.7" fill="#d15171" fill-opacity="0.5"/><polyline points="48.2,776.5 51.3,775.2 54.3,775.3 57.4,773.3 60.4,770.4 63.5,771.8 66.5,772.2 69.6,771.3 72.6,766.5 75.7,765.6 78.7,763.6 81.7,763.6 84.8,767.0 87.8,769.9 90.9,764.8 93.9,759.7 97.0,757.8 100.0,757.4 103.1,756.6 106.1,756.8 109.2,753.8 112.2,753.9 115.2,752.1 118.3,751.8 121.3,749.3 124.4,747.8 127.4,746.9 130.5,746.3 133.5,748.6 136.6,751.2 139.6,751.4 142.6,751.7 145.7,752.2 148.7,752.9 151.8,749.6 154.8,747.5 157.9,748.9 160.9,752.2 164.0,749.4 167.0,748.6 170.1,754.5 173.1,750.8 176.1,747.8 179.2,749.7 182.2,748.2 185.3,750.8 188.3,750.4 191.4,750.3 194.4,748.6 197.5,748.3 200.5,748.7 203.5,751.6 206.6,753.3 209.6,755.5 212.7,753.5 215.7,752.2 218.8,751.8 221.8,750.6 224.9,750.1 227.9,748.7 230.9,746.2 234.0,747.7 237.0,751.8 240.1,754.0 243.1,752.8 246.2,752.1 249.2,751.5 252.3,750.6 255.3,751.2 258.4,751.9 261.4,752.6 264.4,752.5 267.5,754.4 270.5,754.5 273.6,751.4 276.6,754.6 279.7,751.7 282.7,753.4 285.8,752.1 288.8,750.0 291.9,755.9 294.9,757.2 297.9,756.0 301.0,753.8 304.0,753.0 307.1,751.7 310.1,754.3 313.2,755.8 316.2,759.1 319.3,756.6" fill="none" stroke="#1fb040" stroke-width="1.9" stroke-linejoin="round" stroke-linecap="square"/><polyline points="48.2,776.5 51.3,773.4 54.3,775.0 57.4,773.2 60.4,770.2 63.5,771.8 66.5,770.0 69.6,769.1 72.6,766.1 75.7,764.5 78.7,762.5 81.7,761.7 84.8,765.4 87.8,770.1 90.9,761.7 93.9,758.5 97.0,758.1 100.0,756.2 103.1,756.2 106.1,754.8 109.2,754.1 112.2,752.7 115.2,752.4 118.3,751.7 121.3,749.8 124.4,748.3 127.4,747.7 130.5,749.0 133.5,750.2 136.6,748.9 139.6,749.3 142.6,750.0 145.7,749.3 148.7,752.1 151.8,751.9 154.8,754.8 157.9,751.9 160.9,751.9 164.0,748.0 167.0,745.6 170.1,745.7 173.1,747.1 176.1,745.6 179.2,744.3 182.2,746.0 185.3,742.1 188.3,740.5 191.4,743.3 194.4,740.8 197.5,741.4 200.5,742.6 203.5,747.6 206.6,746.0 209.6,742.8 212.7,741.5 215.7,740.2 218.8,741.4 221.8,741.9 224.9,741.2 227.9,738.1 230.9,740.5 234.0,742.6 237.0,740.2 240.1,739.3 243.1,743.5 246.2,744.1 249.2,744.2 252.3,742.7 255.3,743.8 258.4,742.5 261.4,738.6 264.4,740.5 267.5,739.9 270.5,739.6 273.6,740.5 276.6,737.9 279.7,741.0 282.7,738.6 285.8,738.5 288.8,738.0 291.9,739.6 294.9,736.6 297.9,741.5 301.0,741.2 304.0,743.1 307.1,744.1 310.1,743.7 313.2,745.8 316.2,744.6 319.3,743.2" fill="none" stroke="#2237a6" stroke-width="1.9" stroke-linejoin="round" stroke-linecap="square"/><polyline points="48.2,776.3 51.3,774.1 54.3,775.0 57.4,772.9 60.4,770.9 63.5,773.0 66.5,771.8 69.6,769.9 72.6,767.1 75.7,764.6 78.7,763.0 81.7,762.5 84.8,765.7 87.8,769.2 90.9,763.6 93.9,759.5 97.0,757.0 100.0,756.7 103.1,755.8 106.1,755.3 109.2,754.9 112.2,753.0 115.2,753.1 118.3,750.9 121.3,750.0 124.4,749.0 127.4,747.2 130.5,745.8 133.5,747.4 136.6,748.7 139.6,748.1 142.6,749.5 145.7,749.1 148.7,745.8 151.8,746.4 154.8,744.8 157.9,743.5 160.9,740.1 164.0,741.1 167.0,741.3 170.1,741.3 173.1,735.8 176.1,735.3 179.2,737.8 182.2,733.5 185.3,731.7 188.3,735.1 191.4,732.6 194.4,731.7 197.5,731.8 200.5,728.9 203.5,729.3 206.6,729.9 209.6,730.3 212.7,729.3 215.7,726.6 218.8,725.5 221.8,723.1 224.9,722.0 227.9,729.2 230.9,728.7 234.0,723.8 237.0,722.4 240.1,720.4 243.1,723.3 246.2,724.2 249.2,718.4 252.3,717.3 255.3,716.7 258.4,717.9 261.4,719.9 264.4,719.6 267.5,718.2 270.5,717.7 273.6,715.3 276.6,714.6 279.7,712.8 282.7,712.4 285.8,714.9 288.8,715.5 291.9,715.5 294.9,714.1 297.9,713.2 301.0,713.3 304.0,712.3 307.1,707.0 310.1,707.0 313.2,708.2 316.2,712.1 319.3,713.0" fill="none" stroke="#f2a51c" stroke-width="1.9" stroke-linejoin="round" stroke-linecap="square"/><polyline points="48.3,775.6 52.0,773.4 54.3,776.1 56.4,775.6 58.6,767.9 60.4,770.7 64.1,772.3 66.5,769.5 70.7,767.9 72.6,766.9 76.1,763.5 78.7,762.3 82.7,761.3 84.8,765.1 87.1,770.1 90.9,761.1 92.6,759.2 93.9,757.7 97.0,759.2 99.1,755.9 103.1,755.5 105.7,754.8 109.2,754.8 112.3,752.6 115.2,751.1 118.8,750.4 121.3,749.5 125.4,747.1 127.4,745.7 129.8,744.9 133.5,746.9 136.3,746.0 140.7,743.8 142.6,741.6 144.0,737.3 145.7,738.1 149.5,740.5 151.8,737.8 156.0,736.2 157.9,734.3 160.9,731.0 162.6,730.7 164.0,729.6 167.0,727.9 169.2,727.4 173.6,729.6 176.1,725.1 180.1,720.8 182.2,717.6 185.0,718.2 188.3,717.9 191.4,716.9 193.8,716.0 197.5,712.6 200.3,710.6 204.7,708.4 206.6,708.3 209.1,709.5 213.5,707.3 215.7,704.7 218.8,701.4 222.2,695.2 224.9,698.7 226.6,701.8 227.9,699.3 232.1,692.0 234.0,692.4 237.0,693.6 239.7,695.2 244.1,689.8 246.2,689.6 248.5,685.4 252.3,687.1 255.1,686.5 258.4,681.5 260.5,678.8 264.4,675.6 266.0,673.4 267.5,672.6 271.5,675.5 274.8,667.9 276.6,668.3 279.7,668.0 281.3,670.1 282.7,669.6 285.8,667.6 287.9,663.5 292.3,662.4 295.6,651.5 297.9,654.7 301.0,658.0 304.0,655.4 307.6,649.3 310.1,645.3 313.2,644.2 316.4,640.5 319.7,643.8" fill="none" stroke="#e8202a" stroke-width="2.0" stroke-linejoin="round" stroke-linecap="square"/><path d="M37.40 575.00V793.50H333.60" fill="none" stroke="#383838" stroke-width="1.1"/><path d="M33.80 760.30H37.40" stroke="#383838" stroke-width="1.1"/><text x="26.80" y="764.10" text-anchor="end" class="t">26</text><path d="M33.80 709.70H37.40" stroke="#383838" stroke-width="1.1"/><text x="26.80" y="713.50" text-anchor="end" class="t">28</text><path d="M33.80 659.10H37.40" stroke="#383838" stroke-width="1.1"/><text x="26.80" y="662.90" text-anchor="end" class="t">30</text><path d="M33.80 608.50H37.40" stroke="#383838" stroke-width="1.1"/><text x="26.80" y="612.30" text-anchor="end" class="t">32</text><path d="M78.70 793.50V797.10" stroke="#383838" stroke-width="1.1"/><text x="78.70" y="814.30" text-anchor="middle" class="t">2020</text><path d="M139.60 793.50V797.10" stroke="#383838" stroke-width="1.1"/><text x="139.60" y="814.30" text-anchor="middle" class="t">2040</text><path d="M200.50 793.50V797.10" stroke="#383838" stroke-width="1.1"/><text x="200.50" y="814.30" text-anchor="middle" class="t">2060</text><path d="M261.40 793.50V797.10" stroke="#383838" stroke-width="1.1"/><text x="261.40" y="814.30" text-anchor="middle" class="t">2080</text><path d="M322.30 793.50V797.10" stroke="#383838" stroke-width="1.1"/><text x="322.30" y="814.30" text-anchor="middle" class="t">2100</text><text x="185.50" y="826.80" text-anchor="middle" class="t">Year</text><text transform="translate(9.30 684.25) rotate(-90)" text-anchor="middle" class="t yl">Temperature (°C)</text><text x="185.50" y="573.30" text-anchor="middle" class="ti">Subtropical monsoon</text></g>
<g><polygon points="397.4,740.3 400.5,737.5 403.5,733.6 406.6,737.8 409.6,737.7 412.7,731.4 415.7,733.5 418.8,728.7 421.8,731.6 424.9,726.6 427.9,729.1 430.9,725.8 434.0,728.1 437.0,731.4 440.1,725.5 443.1,724.3 446.2,729.0 449.2,725.4 452.3,723.7 455.3,725.5 458.3,724.5 461.4,723.7 464.4,719.8 467.5,719.9 470.5,718.6 473.6,719.0 476.6,721.2 479.7,716.4 482.7,719.2 485.8,716.9 488.8,711.7 491.8,714.3 494.9,714.5 497.9,716.2 501.0,717.5 504.0,715.1 507.1,717.9 510.1,719.7 513.2,716.0 516.2,717.1 519.2,720.5 522.3,719.1 525.3,720.0 528.4,722.2 531.4,717.1 534.5,718.0 537.5,722.0 540.6,720.9 543.6,715.8 546.7,717.7 549.7,714.4 552.7,716.2 555.8,714.4 558.8,716.9 561.9,719.2 564.9,722.3 568.0,720.9 571.0,720.2 574.1,720.1 577.1,717.9 580.1,717.1 583.2,715.5 586.2,720.2 589.3,719.0 592.3,718.4 595.4,718.3 598.4,717.7 601.5,722.4 604.5,716.8 607.6,719.3 610.6,721.7 613.6,718.2 616.7,716.4 619.7,721.3 622.8,720.7 625.8,719.3 628.9,718.7 631.9,721.8 635.0,717.2 638.0,716.5 641.0,720.8 644.1,718.7 647.1,721.7 650.2,722.7 653.2,719.6 656.3,717.3 659.3,717.9 662.4,722.6 665.4,719.2 668.5,723.3 668.5,736.9 665.4,735.2 662.4,738.4 659.3,732.4 656.3,736.2 653.2,736.2 650.2,734.6 647.1,732.8 644.1,736.4 641.0,732.2 638.0,736.5 635.0,737.8 631.9,732.3 628.9,735.9 625.8,736.9 622.8,735.4 619.7,742.1 616.7,742.7 613.6,734.6 610.6,734.6 607.6,733.5 604.5,734.2 601.5,732.8 598.4,740.5 595.4,733.7 592.3,732.2 589.3,733.7 586.2,734.4 583.2,737.2 580.1,735.4 577.1,737.6 574.1,746.4 571.0,740.9 568.0,736.9 564.9,737.3 561.9,743.4 558.8,732.9 555.8,734.1 552.7,737.4 549.7,741.4 546.7,734.6 543.6,739.5 540.6,733.9 537.5,734.7 534.5,734.2 531.4,737.5 528.4,741.4 525.3,734.1 522.3,736.9 519.2,733.0 516.2,737.6 513.2,735.8 510.1,734.6 507.1,736.1 504.0,732.2 501.0,740.5 497.9,736.4 494.9,734.6 491.8,734.3 488.8,731.6 485.8,740.3 482.7,734.8 479.7,739.3 476.6,735.4 473.6,734.8 470.5,736.0 467.5,737.1 464.4,738.1 461.4,740.8 458.3,735.2 455.3,739.3 452.3,737.4 449.2,740.7 446.2,738.0 443.1,741.2 440.1,743.2 437.0,740.6 434.0,743.2 430.9,740.6 427.9,739.2 424.9,736.4 421.8,743.0 418.8,743.9 415.7,740.0 412.7,748.7 409.6,746.2 406.6,745.8 403.5,746.4 400.5,745.5 397.4,752.1" fill="#65bf77" fill-opacity="0.5"/><polygon points="397.4,733.5 400.5,734.4 403.5,732.0 406.6,735.4 409.6,727.1 412.7,727.2 415.7,729.0 418.8,725.7 421.8,722.2 424.9,725.0 427.9,724.1 430.9,722.3 434.0,721.5 437.0,724.7 440.1,721.5 443.1,718.7 446.2,720.6 449.2,719.0 452.3,720.5 455.3,717.7 458.3,722.3 461.4,715.5 464.4,714.5 467.5,714.6 470.5,717.7 473.6,711.2 476.6,711.1 479.7,709.9 482.7,703.6 485.8,704.3 488.8,707.6 491.8,707.9 494.9,706.3 497.9,705.6 501.0,706.6 504.0,707.3 507.1,703.0 510.1,703.8 513.2,708.6 516.2,703.5 519.2,705.3 522.3,705.1 525.3,705.5 528.4,702.4 531.4,704.2 534.5,703.5 537.5,703.2 540.6,704.0 543.6,704.4 546.7,703.8 549.7,705.4 552.7,705.4 555.8,702.8 558.8,703.7 561.9,707.2 564.9,702.2 568.0,703.2 571.0,703.5 574.1,706.5 577.1,703.6 580.1,698.3 583.2,706.1 586.2,702.6 589.3,705.1 592.3,705.8 595.4,699.0 598.4,705.5 601.5,698.3 604.5,705.3 607.6,702.3 610.6,703.2 613.6,702.5 616.7,705.0 619.7,705.8 622.8,706.4 625.8,701.1 628.9,700.3 631.9,702.0 635.0,702.7 638.0,705.9 641.0,704.4 644.1,706.8 647.1,706.0 650.2,708.0 653.2,704.7 656.3,703.5 659.3,704.8 662.4,705.9 665.4,703.6 668.5,704.1 668.5,720.6 665.4,720.9 662.4,718.4 659.3,721.2 656.3,720.0 653.2,722.0 650.2,720.0 647.1,721.5 644.1,722.8 641.0,717.4 638.0,719.0 635.0,729.8 631.9,722.1 628.9,720.5 625.8,719.3 622.8,720.8 619.7,722.5 616.7,722.2 613.6,718.1 610.6,725.0 607.6,717.8 604.5,722.6 601.5,722.5 598.4,720.7 595.4,722.4 592.3,720.8 589.3,722.4 586.2,720.5 583.2,725.3 580.1,722.3 577.1,720.9 574.1,729.8 571.0,725.1 568.0,721.9 564.9,722.7 561.9,718.9 558.8,726.6 555.8,723.8 552.7,726.4 549.7,722.0 546.7,720.6 543.6,720.3 540.6,724.1 537.5,720.1 534.5,721.4 531.4,723.0 528.4,720.7 525.3,724.1 522.3,726.5 519.2,724.5 516.2,726.4 513.2,725.3 510.1,728.3 507.1,725.5 504.0,729.8 501.0,728.9 497.9,728.5 494.9,728.4 491.8,732.8 488.8,732.1 485.8,735.6 482.7,736.5 479.7,731.7 476.6,730.0 473.6,732.0 470.5,730.1 467.5,731.0 464.4,730.7 461.4,731.8 458.3,732.5 455.3,736.3 452.3,732.5 449.2,734.5 446.2,734.3 443.1,732.7 440.1,734.8 437.0,734.8 434.0,735.5 430.9,735.4 427.9,736.9 424.9,736.0 421.8,741.5 418.8,738.0 415.7,739.4 412.7,741.7 409.6,737.8 406.6,742.0 403.5,742.5 400.5,739.8 397.4,742.0" fill="#2d9bd7" fill-opacity="0.5"/><polygon points="397.4,736.7 400.5,735.7 403.5,731.2 406.6,732.4 409.6,734.2 412.7,728.6 415.7,731.7 418.8,728.6 421.8,728.5 424.9,728.7 427.9,725.3 430.9,725.5 434.0,725.2 437.0,726.0 440.1,719.7 443.1,727.0 446.2,722.3 449.2,719.4 452.3,721.0 455.3,723.6 458.3,715.4 461.4,720.2 464.4,721.1 467.5,716.6 470.5,712.1 473.6,713.5 476.6,712.5 479.7,711.4 482.7,704.5 485.8,707.0 488.8,699.0 491.8,703.9 494.9,701.1 497.9,702.8 501.0,703.3 504.0,701.6 507.1,701.9 510.1,694.9 513.2,703.1 516.2,698.1 519.2,697.8 522.3,698.5 525.3,695.9 528.4,695.3 531.4,697.0 534.5,697.9 537.5,693.8 540.6,693.6 543.6,693.6 546.7,689.8 549.7,695.8 552.7,690.0 555.8,686.5 558.8,689.5 561.9,688.6 564.9,684.0 568.0,688.0 571.0,689.7 574.1,690.6 577.1,689.7 580.1,686.6 583.2,691.7 586.2,686.9 589.3,685.0 592.3,689.2 595.4,683.1 598.4,683.6 601.5,682.7 604.5,685.3 607.6,686.9 610.6,687.0 613.6,684.5 616.7,684.8 619.7,683.2 622.8,672.4 625.8,681.3 628.9,681.5 631.9,679.1 635.0,676.0 638.0,668.2 641.0,671.0 644.1,666.4 647.1,670.5 650.2,670.3 653.2,672.2 656.3,670.1 659.3,662.7 662.4,667.2 665.4,662.9 668.5,672.6 668.5,706.3 665.4,706.8 662.4,705.7 659.3,701.8 656.3,702.7 653.2,701.5 650.2,701.3 647.1,697.9 644.1,696.2 641.0,700.6 638.0,702.9 635.0,704.8 631.9,703.4 628.9,702.1 625.8,702.6 622.8,702.3 619.7,701.8 616.7,699.9 613.6,702.7 610.6,703.4 607.6,700.3 604.5,700.2 601.5,697.7 598.4,704.5 595.4,701.6 592.3,706.9 589.3,702.3 586.2,704.3 583.2,704.6 580.1,701.7 577.1,706.3 574.1,710.0 571.0,708.9 568.0,704.2 564.9,706.3 561.9,706.7 558.8,709.7 555.8,708.0 552.7,708.0 549.7,708.2 546.7,706.8 543.6,711.2 540.6,709.2 537.5,708.3 534.5,705.6 531.4,708.3 528.4,711.0 525.3,708.9 522.3,710.4 519.2,715.6 516.2,721.2 513.2,718.1 510.1,718.4 507.1,721.4 504.0,720.3 501.0,726.4 497.9,718.0 494.9,721.6 491.8,729.5 488.8,726.9 485.8,727.5 482.7,729.3 479.7,728.7 476.6,729.0 473.6,732.1 470.5,729.7 467.5,734.7 464.4,736.3 461.4,735.0 458.3,731.8 455.3,736.4 452.3,734.4 449.2,737.7 446.2,739.8 443.1,733.8 440.1,738.0 437.0,738.3 434.0,742.3 430.9,739.0 427.9,739.6 424.9,740.5 421.8,743.5 418.8,740.6 415.7,742.8 412.7,742.7 409.6,742.3 406.6,741.7 403.5,745.5 400.5,745.7 397.4,746.2" fill="#f7a935" fill-opacity="0.5"/><polygon points="397.4,734.1 400.5,735.2 403.5,733.9 406.6,733.4 409.6,732.0 412.7,728.6 415.7,732.3 418.8,728.7 421.8,730.4 424.9,724.6 427.9,724.1 430.9,721.9 434.0,721.0 437.0,719.7 440.1,720.8 443.1,722.2 446.2,721.8 449.2,718.5 452.3,716.2 455.3,714.4 458.3,723.2 461.4,723.4 464.4,720.9 467.5,718.5 470.5,717.1 473.6,712.8 476.6,710.9 479.7,708.8 482.7,705.4 485.8,702.2 488.8,698.3 491.8,694.9 494.9,693.0 497.9,691.8 501.0,695.3 504.0,691.4 507.1,692.3 510.1,691.5 513.2,689.3 516.2,692.6 519.2,690.7 522.3,689.1 525.3,687.1 528.4,685.1 531.4,687.5 534.5,687.2 537.5,680.9 540.6,674.7 543.6,680.5 546.7,683.7 549.7,675.0 552.7,674.7 555.8,674.6 558.8,671.0 561.9,664.7 564.9,665.2 568.0,665.9 571.0,663.3 574.1,664.6 577.1,665.3 580.1,660.6 583.2,651.8 586.2,655.5 589.3,657.7 592.3,661.6 595.4,664.8 598.4,659.9 601.5,644.9 604.5,651.6 607.6,644.2 610.6,644.2 613.6,643.6 616.7,643.3 619.7,640.2 622.8,633.4 625.8,639.6 628.9,636.1 631.9,634.0 635.0,630.2 638.0,622.0 641.0,621.8 644.1,628.2 647.1,631.9 650.2,621.6 653.2,610.0 656.3,614.1 659.3,619.8 662.4,616.8 665.4,601.3 668.5,614.1 668.5,655.6 665.4,654.9 662.4,655.0 659.3,659.6 656.3,660.4 653.2,663.1 650.2,660.3 647.1,665.3 644.1,666.1 641.0,662.8 638.0,667.0 635.0,668.6 631.9,667.4 628.9,670.6 625.8,669.1 622.8,676.0 619.7,670.2 616.7,670.4 613.6,676.9 610.6,673.4 607.6,678.8 604.5,683.0 601.5,682.9 598.4,688.7 595.4,690.7 592.3,689.5 589.3,687.1 586.2,688.0 583.2,690.0 580.1,685.9 577.1,690.7 574.1,693.4 571.0,692.1 568.0,690.6 564.9,694.6 561.9,698.4 558.8,697.6 555.8,697.6 552.7,697.7 549.7,699.1 546.7,697.5 543.6,698.4 540.6,700.4 537.5,700.9 534.5,701.9 531.4,701.9 528.4,709.3 525.3,708.2 522.3,710.5 519.2,709.3 516.2,707.6 513.2,708.1 510.1,710.2 507.1,713.9 504.0,711.6 501.0,711.1 497.9,714.7 494.9,714.1 491.8,721.1 488.8,717.8 485.8,720.2 482.7,725.2 479.7,722.4 476.6,727.4 473.6,725.3 470.5,728.9 467.5,733.5 464.4,726.8 461.4,734.1 458.3,733.0 455.3,736.1 452.3,735.6 449.2,733.0 446.2,734.0 443.1,732.3 440.1,734.2 437.0,735.3 434.0,734.9 430.9,740.2 427.9,736.4 424.9,737.9 421.8,743.0 418.8,739.3 415.7,738.5 412.7,741.4 409.6,743.0 406.6,741.3 403.5,742.3 400.5,740.8 397.4,744.4" fill="#d15171" fill-opacity="0.5"/><polyline points="397.4,741.3 400.5,738.5 403.5,742.4 406.6,739.5 409.6,738.7 412.7,739.7 415.7,739.0 418.8,737.6 421.8,742.0 424.9,732.0 427.9,730.1 430.9,730.3 434.0,732.9 437.0,734.6 440.1,735.4 443.1,732.8 446.2,730.0 449.2,730.8 452.3,730.9 455.3,727.0 458.3,726.3 461.4,727.0 464.4,727.3 467.5,726.8 470.5,730.5 473.6,731.3 476.6,722.2 479.7,725.8 482.7,724.4 485.8,722.7 488.8,721.9 491.8,722.1 494.9,726.9 497.9,729.2 501.0,722.5 504.0,723.5 507.1,724.3 510.1,720.7 513.2,722.9 516.2,722.4 519.2,723.6 522.3,722.0 525.3,725.6 528.4,728.6 531.4,730.5 534.5,725.4 537.5,726.0 540.6,721.9 543.6,721.1 546.7,723.0 549.7,721.9 552.7,717.2 555.8,715.4 558.8,717.9 561.9,725.5 564.9,727.1 568.0,724.0 571.0,723.7 574.1,721.1 577.1,719.1 580.1,718.1 583.2,716.5 586.2,724.1 589.3,729.6 592.3,727.7 595.4,722.7 598.4,725.1 601.5,723.9 604.5,724.9 607.6,725.4 610.6,725.0 613.6,726.4 616.7,728.3 619.7,727.3 622.8,728.0 625.8,727.3 628.9,723.5 631.9,724.5 635.0,728.9 638.0,730.9 641.0,724.8 644.1,727.4 647.1,727.4 650.2,725.0 653.2,729.6 656.3,723.5 659.3,727.0 662.4,727.4 665.4,730.3 668.5,728.3" fill="none" stroke="#1fb040" stroke-width="1.9" stroke-linejoin="round" stroke-linecap="square"/><polyline points="397.4,741.0 400.5,738.8 403.5,741.5 406.6,739.1 409.6,736.8 412.7,739.8 415.7,738.4 418.8,736.0 421.8,740.5 424.9,731.6 427.9,728.8 430.9,730.0 434.0,732.6 437.0,733.8 440.1,733.8 443.1,731.5 446.2,728.9 449.2,730.0 452.3,731.0 455.3,726.4 458.3,725.2 461.4,725.8 464.4,726.3 467.5,725.6 470.5,727.1 473.6,724.2 476.6,713.4 479.7,717.5 482.7,718.7 485.8,716.5 488.8,714.8 491.8,716.2 494.9,715.9 497.9,714.7 501.0,718.1 504.0,721.2 507.1,719.2 510.1,722.0 513.2,724.3 516.2,717.1 519.2,719.2 522.3,718.1 525.3,717.7 528.4,718.3 531.4,715.2 534.5,710.7 537.5,710.6 540.6,712.0 543.6,716.9 546.7,714.3 549.7,713.5 552.7,714.0 555.8,714.9 558.8,712.7 561.9,708.2 564.9,716.0 568.0,716.5 571.0,712.9 574.1,707.5 577.1,711.8 580.1,714.0 583.2,712.7 586.2,714.0 589.3,710.7 592.3,716.1 595.4,717.9 598.4,715.1 601.5,708.2 604.5,713.9 607.6,712.8 610.6,711.7 613.6,712.4 616.7,708.9 619.7,714.1 622.8,714.5 625.8,717.4 628.9,714.1 631.9,714.5 635.0,711.9 638.0,714.0 641.0,714.6 644.1,717.8 647.1,715.6 650.2,712.7 653.2,713.1 656.3,715.3 659.3,716.3 662.4,717.4 665.4,715.8 668.5,713.2" fill="none" stroke="#2237a6" stroke-width="1.9" stroke-linejoin="round" stroke-linecap="square"/><polyline points="397.4,742.2 400.5,738.6 403.5,742.1 406.6,739.4 409.6,737.5 412.7,740.5 415.7,738.9 418.8,737.4 421.8,742.5 424.9,730.9 427.9,730.2 430.9,729.2 434.0,734.0 437.0,734.5 440.1,733.7 443.1,730.4 446.2,729.1 449.2,730.5 452.3,730.1 455.3,728.2 458.3,726.6 461.4,727.9 464.4,726.6 467.5,726.2 470.5,728.3 473.6,724.6 476.6,713.5 479.7,716.1 482.7,716.1 485.8,715.6 488.8,714.4 491.8,715.0 494.9,713.6 497.9,716.3 501.0,715.8 504.0,714.6 507.1,715.2 510.1,714.2 513.2,710.7 516.2,712.0 519.2,709.5 522.3,707.2 525.3,707.7 528.4,705.9 531.4,702.3 534.5,699.8 537.5,704.0 540.6,705.9 543.6,701.2 546.7,698.8 549.7,703.3 552.7,706.1 555.8,704.8 558.8,705.0 561.9,701.0 564.9,697.2 568.0,696.0 571.0,700.4 574.1,699.5 577.1,699.6 580.1,699.5 583.2,701.0 586.2,698.9 589.3,701.3 592.3,705.6 595.4,700.0 598.4,695.3 601.5,691.4 604.5,697.3 607.6,696.8 610.6,699.2 613.6,693.8 616.7,693.6 619.7,692.2 622.8,692.2 625.8,690.9 628.9,691.2 631.9,688.0 635.0,687.9 638.0,690.4 641.0,691.0 644.1,687.9 647.1,688.7 650.2,684.7 653.2,683.7 656.3,684.5 659.3,683.4 662.4,686.4 665.4,687.6 668.5,689.8" fill="none" stroke="#f2a51c" stroke-width="1.9" stroke-linejoin="round" stroke-linecap="square"/><polyline points="397.3,740.7 401.0,737.4 404.3,742.9 406.6,737.6 408.7,735.2 413.1,739.6 415.7,737.5 418.6,736.3 421.8,740.7 425.1,729.8 427.9,729.8 429.5,727.6 430.9,728.9 433.9,732.0 437.0,734.3 439.4,734.2 443.1,731.2 445.9,728.7 449.2,728.7 452.5,729.8 455.3,724.3 456.9,724.3 458.3,724.2 461.3,726.5 464.4,725.8 467.8,725.4 470.5,727.9 472.2,728.7 473.6,723.7 476.6,712.3 479.7,716.2 481.0,716.6 482.7,714.7 485.8,715.0 487.5,714.4 491.8,711.2 494.1,710.1 497.9,703.9 500.7,700.2 504.0,708.1 506.1,713.4 509.4,709.0 513.2,707.1 516.0,705.7 520.4,700.2 522.3,701.2 524.8,703.5 528.4,700.2 531.3,696.9 534.5,698.8 537.3,697.3 540.6,694.0 542.8,691.8 546.7,692.5 549.3,691.8 552.7,688.7 555.9,686.3 558.8,685.4 562.5,685.2 564.9,683.2 568.0,679.9 571.2,676.5 574.1,678.9 575.6,678.7 577.1,677.1 581.1,673.2 583.2,675.0 586.6,674.3 589.3,672.1 590.9,671.0 592.3,671.7 595.4,670.2 597.5,672.1 600.8,665.5 604.1,672.1 607.6,660.9 609.5,655.7 613.9,657.9 616.7,660.2 618.3,661.2 619.7,657.6 622.7,648.0 626.0,654.6 628.9,652.9 630.3,651.3 631.9,648.1 634.7,645.8 638.0,650.2 641.0,645.9 643.5,644.7 647.1,644.6 649.0,641.5 653.3,632.7 656.3,635.5 657.7,637.1 659.3,636.0 663.2,634.9 666.5,631.6 668.7,634.9" fill="none" stroke="#e8202a" stroke-width="2.0" stroke-linejoin="round" stroke-linecap="square"/><path d="M386.40 575.00V793.50H682.10" fill="none" stroke="#383838" stroke-width="1.1"/><path d="M382.80 760.20H386.40" stroke="#383838" stroke-width="1.1"/><text x="375.80" y="764.00" text-anchor="end" class="t">26</text><path d="M382.80 709.70H386.40" stroke="#383838" stroke-width="1.1"/><text x="375.80" y="713.50" text-anchor="end" class="t">28</text><path d="M382.80 659.20H386.40" stroke="#383838" stroke-width="1.1"/><text x="375.80" y="663.00" text-anchor="end" class="t">30</text><path d="M382.80 608.70H386.40" stroke="#383838" stroke-width="1.1"/><text x="375.80" y="612.50" text-anchor="end" class="t">32</text><path d="M427.90 793.50V797.10" stroke="#383838" stroke-width="1.1"/><text x="427.90" y="814.30" text-anchor="middle" class="t">2020</text><path d="M488.80 793.50V797.10" stroke="#383838" stroke-width="1.1"/><text x="488.80" y="814.30" text-anchor="middle" class="t">2040</text><path d="M549.70 793.50V797.10" stroke="#383838" stroke-width="1.1"/><text x="549.70" y="814.30" text-anchor="middle" class="t">2060</text><path d="M610.60 793.50V797.10" stroke="#383838" stroke-width="1.1"/><text x="610.60" y="814.30" text-anchor="middle" class="t">2080</text><path d="M671.50 793.50V797.10" stroke="#383838" stroke-width="1.1"/><text x="671.50" y="814.30" text-anchor="middle" class="t">2100</text><text x="534.25" y="826.80" text-anchor="middle" class="t">Year</text><text transform="translate(358.30 684.25) rotate(-90)" text-anchor="middle" class="t yl">Temperature (°C)</text><text x="534.25" y="573.30" text-anchor="middle" class="ti">Tropical monsoon</text></g>
</svg>
</body></html>
